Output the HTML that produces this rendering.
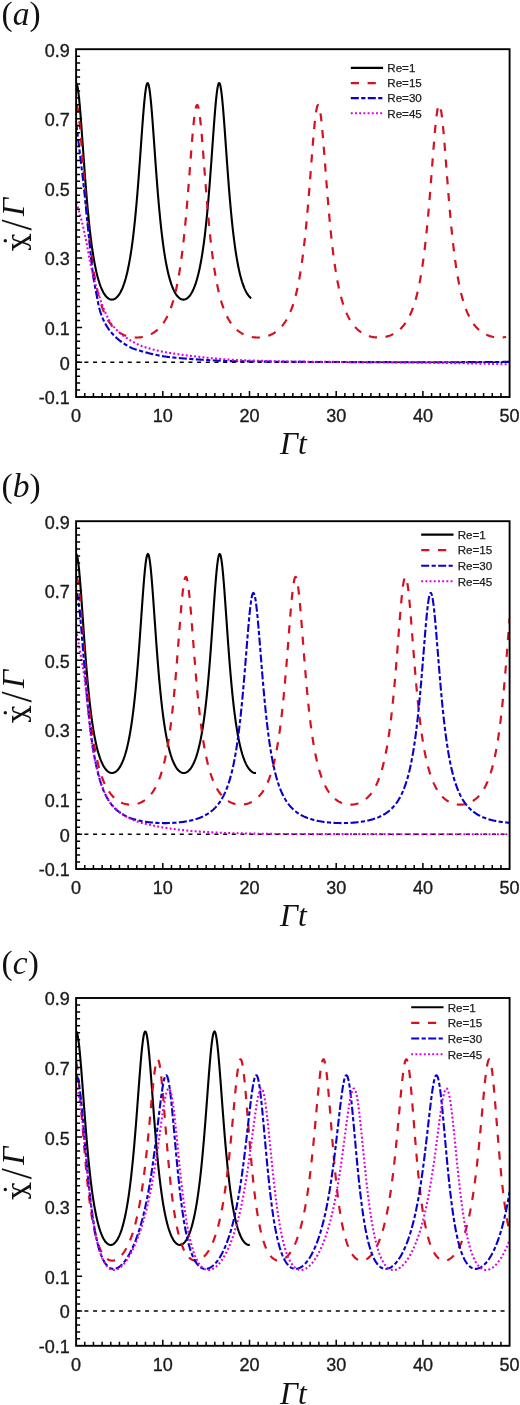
<!DOCTYPE html>
<html><head><meta charset="utf-8"><title>plot</title>
<style>
html,body{margin:0;padding:0;background:#fff;}
svg{display:block;}
.tl{font-family:"Liberation Sans",Arial,sans-serif;font-size:18px;fill:#1a1a1a;stroke:#1a1a1a;stroke-width:0.35px;}
.lg{font-family:"Liberation Sans",Arial,sans-serif;font-size:11.6px;fill:#1a1a1a;stroke:#1a1a1a;stroke-width:0.25px;}
.ax{font-family:"Liberation Serif","Times New Roman",serif;font-style:italic;font-size:31.5px;fill:#111;}
.chi{font-family:"DejaVu Math TeX Gyre",serif;font-size:26px;fill:#111;}
.dot{font-family:"Liberation Serif",serif;font-size:31.5px;fill:#111;}
.sl{font-family:"DejaVu Sans",sans-serif;font-weight:200;font-size:36px;fill:#111;}
.pl{font-family:"Liberation Serif","Times New Roman",serif;font-size:33.5px;fill:#111;}
</style></head>
<body>
<svg width="520" height="1405" viewBox="0 0 520 1405">
<defs><clipPath id="clip0"><rect x="76.10" y="49.20" width="433.50" height="347.80"/></clipPath><clipPath id="clip1"><rect x="76.10" y="521.20" width="433.50" height="347.80"/></clipPath><clipPath id="clip2"><rect x="76.10" y="998.00" width="433.50" height="347.80"/></clipPath></defs>
<rect width="520" height="1405" fill="#fff"/>
<g clip-path="url(#clip0)" fill="none" stroke-linejoin="round">
<line x1="76.10" y1="362.22" x2="509.60" y2="362.22" stroke="#000" stroke-width="1.5" stroke-dasharray="4 4.67" stroke-dashoffset="-8.30"/>
<path d="M76.10 82.94 L76.82 83.89 L77.54 86.72 L78.25 91.30 L78.97 97.43 L79.69 104.88 L80.41 113.38 L81.12 122.66 L81.84 132.46 L82.56 142.52 L83.28 152.66 L84.00 162.70 L84.71 172.51 L85.43 181.98 L86.15 191.04 L86.87 199.65 L87.58 207.78 L88.30 215.42 L89.02 222.57 L89.74 229.24 L90.46 235.44 L91.17 241.21 L91.89 246.55 L92.61 251.49 L93.33 256.07 L94.04 260.29 L94.76 264.19 L95.48 267.79 L96.20 271.11 L96.92 274.16 L97.63 276.97 L98.35 279.56 L99.07 281.93 L99.79 284.10 L100.50 286.09 L101.22 287.91 L101.94 289.57 L102.66 291.07 L103.37 292.43 L104.09 293.66 L104.81 294.75 L105.53 295.72 L106.25 296.58 L106.96 297.32 L107.68 297.95 L108.40 298.48 L109.12 298.90 L109.83 299.23 L110.55 299.45 L111.27 299.58 L111.99 299.61 L112.71 299.55 L113.42 299.39 L114.14 299.13 L114.86 298.77 L115.58 298.31 L116.29 297.75 L117.01 297.08 L117.73 296.29 L118.45 295.40 L119.17 294.39 L119.88 293.25 L120.60 291.98 L121.32 290.57 L122.04 289.01 L122.75 287.30 L123.47 285.42 L124.19 283.37 L124.91 281.13 L125.63 278.68 L126.34 276.02 L127.06 273.13 L127.78 269.99 L128.50 266.58 L129.21 262.88 L129.93 258.87 L130.65 254.52 L131.37 249.82 L132.09 244.74 L132.80 239.26 L133.52 233.35 L134.24 226.98 L134.96 220.15 L135.67 212.83 L136.39 205.02 L137.11 196.72 L137.83 187.95 L138.55 178.74 L139.26 169.14 L139.98 159.24 L140.70 149.15 L141.42 139.02 L142.13 129.02 L142.85 119.38 L143.57 110.34 L144.29 102.17 L145.01 95.14 L145.72 89.53 L146.44 85.54 L147.16 83.35 L147.88 83.05 L148.59 84.67 L149.31 88.12 L150.03 93.26 L150.75 99.88 L151.47 107.72 L152.18 116.53 L152.90 126.01 L153.62 135.92 L154.34 146.04 L155.05 156.16 L155.77 166.13 L156.49 175.83 L157.21 185.17 L157.92 194.08 L158.64 202.53 L159.36 210.49 L160.08 217.95 L160.80 224.93 L161.51 231.44 L162.23 237.49 L162.95 243.10 L163.67 248.31 L164.38 253.12 L165.10 257.57 L165.82 261.68 L166.54 265.47 L167.26 268.97 L167.97 272.19 L168.69 275.16 L169.41 277.89 L170.13 280.40 L170.84 282.70 L171.56 284.81 L172.28 286.74 L173.00 288.50 L173.72 290.11 L174.43 291.56 L175.15 292.87 L175.87 294.05 L176.59 295.10 L177.30 296.03 L178.02 296.85 L178.74 297.55 L179.46 298.15 L180.18 298.64 L180.89 299.03 L181.61 299.32 L182.33 299.51 L183.05 299.60 L183.76 299.60 L184.48 299.50 L185.20 299.31 L185.92 299.01 L186.64 298.62 L187.35 298.13 L188.07 297.53 L188.79 296.82 L189.51 296.00 L190.22 295.06 L190.94 294.01 L191.66 292.82 L192.38 291.50 L193.10 290.05 L193.81 288.44 L194.53 286.67 L195.25 284.73 L195.97 282.62 L196.68 280.31 L197.40 277.79 L198.12 275.05 L198.84 272.07 L199.56 268.84 L200.27 265.33 L200.99 261.52 L201.71 257.40 L202.43 252.94 L203.14 248.11 L203.86 242.89 L204.58 237.26 L205.30 231.19 L206.01 224.67 L206.73 217.67 L207.45 210.18 L208.17 202.20 L208.89 193.73 L209.60 184.81 L210.32 175.45 L211.04 165.74 L211.76 155.76 L212.47 145.64 L213.19 135.53 L213.91 125.63 L214.63 116.16 L215.35 107.39 L216.06 99.59 L216.78 93.03 L217.50 87.95 L218.22 84.57 L218.93 83.03 L219.65 83.40 L220.37 85.66 L221.09 89.72 L221.81 95.40 L222.52 102.47 L223.24 110.68 L223.96 119.75 L224.68 129.41 L225.39 139.42 L226.11 149.55 L226.83 159.64 L227.55 169.53 L228.27 179.11 L228.98 188.31 L229.70 197.06 L230.42 205.34 L231.14 213.13 L231.85 220.43 L232.57 227.24 L233.29 233.59 L234.01 239.48 L234.73 244.95 L235.44 250.02 L236.16 254.70 L236.88 259.03 L237.60 263.03 L238.31 266.72 L239.03 270.12 L239.75 273.25 L240.47 276.13 L241.19 278.79 L241.90 281.22 L242.62 283.46 L243.34 285.50 L244.06 287.37 L244.77 289.08 L245.49 290.63 L246.21 292.03 L246.93 293.29 L247.65 294.43 L248.36 295.44 L249.08 296.33 L249.80 297.10 L250.52 297.77 L251.23 298.33" stroke="#000" stroke-width="2.1"/>
<path d="M76.10 104.85 L76.82 105.69 L77.54 108.19 L78.26 112.25 L78.98 117.71 L79.70 124.38 L80.42 132.03 L81.14 140.44 L81.86 149.38 L82.58 158.65 L83.30 168.06 L84.02 177.46 L84.74 186.71 L85.46 195.72 L86.18 204.42 L86.90 212.75 L87.63 220.68 L88.35 228.19 L89.07 235.28 L89.79 241.95 L90.51 248.20 L91.23 254.06 L91.95 259.53 L92.67 264.64 L93.39 269.42 L94.11 273.87 L94.83 278.02 L95.55 281.89 L96.27 285.51 L96.99 288.88 L97.71 292.02 L98.43 294.96 L99.15 297.70 L99.87 300.27 L100.59 302.67 L101.31 304.91 L102.03 307.01 L102.75 308.98 L103.47 310.83 L104.19 312.56 L104.91 314.19 L105.63 315.71 L106.35 317.15 L107.07 318.50 L107.79 319.76 L108.51 320.96 L109.23 322.08 L109.96 323.14 L110.68 324.14 L111.40 325.08 L112.12 325.96 L112.84 326.80 L113.56 327.59 L114.28 328.33 L115.00 329.03 L115.72 329.69 L116.44 330.31 L117.16 330.90 L117.88 331.45 L118.60 331.97 L119.32 332.46 L120.04 332.92 L120.76 333.35 L121.48 333.75 L122.20 334.13 L122.92 334.49 L123.64 334.82 L124.36 335.13 L125.08 335.42 L125.80 335.69 L126.52 335.93 L127.24 336.16 L127.96 336.37 L128.68 336.56 L129.40 336.73 L130.12 336.88 L130.84 337.02 L131.56 337.14 L132.29 337.24 L133.01 337.33 L133.73 337.40 L134.45 337.46 L135.17 337.49 L135.89 337.52 L136.61 337.53 L137.33 337.52 L138.05 337.50 L138.77 337.46 L139.49 337.40 L140.21 337.33 L140.93 337.24 L141.65 337.14 L142.37 337.02 L143.09 336.89 L143.81 336.73 L144.53 336.56 L145.25 336.37 L145.97 336.16 L146.69 335.94 L147.41 335.69 L148.13 335.43 L148.85 335.14 L149.57 334.83 L150.29 334.50 L151.01 334.14 L151.73 333.76 L152.45 333.36 L153.17 332.93 L153.89 332.47 L154.62 331.98 L155.34 331.46 L156.06 330.91 L156.78 330.33 L157.50 329.70 L158.22 329.05 L158.94 328.35 L159.66 327.61 L160.38 326.82 L161.10 325.99 L161.82 325.10 L162.54 324.16 L163.26 323.17 L163.98 322.11 L164.70 320.99 L165.42 319.80 L166.14 318.53 L166.86 317.18 L167.58 315.75 L168.30 314.23 L169.02 312.60 L169.74 310.88 L170.46 309.03 L171.18 307.07 L171.90 304.97 L172.62 302.73 L173.34 300.33 L174.06 297.77 L174.78 295.03 L175.50 292.10 L176.22 288.96 L176.95 285.60 L177.67 281.99 L178.39 278.13 L179.11 273.98 L179.83 269.54 L180.55 264.78 L181.27 259.67 L181.99 254.21 L182.71 248.36 L183.43 242.12 L184.15 235.46 L184.87 228.39 L185.59 220.89 L186.31 212.97 L187.03 204.65 L187.75 195.96 L188.47 186.95 L189.19 177.70 L189.91 168.31 L190.63 158.90 L191.35 149.63 L192.07 140.67 L192.79 132.24 L193.51 124.57 L194.23 117.87 L194.95 112.38 L195.67 108.28 L196.39 105.74 L197.11 104.85 L197.83 105.65 L198.55 108.11 L199.27 112.12 L200.00 117.55 L200.72 124.19 L201.44 131.82 L202.16 140.21 L202.88 149.14 L203.60 158.40 L204.32 167.81 L205.04 177.21 L205.76 186.47 L206.48 195.49 L207.20 204.19 L207.92 212.53 L208.64 220.48 L209.36 228.00 L210.08 235.10 L210.80 241.78 L211.52 248.04 L212.24 253.91 L212.96 259.39 L213.68 264.51 L214.40 269.29 L215.12 273.75 L215.84 277.91 L216.56 281.79 L217.28 285.41 L218.00 288.79 L218.72 291.94 L219.44 294.88 L220.16 297.63 L220.88 300.20 L221.60 302.60 L222.33 304.85 L223.05 306.96 L223.77 308.93 L224.49 310.78 L225.21 312.52 L225.93 314.14 L226.65 315.67 L227.37 317.11 L228.09 318.46 L228.81 319.73 L229.53 320.93 L230.25 322.05 L230.97 323.11 L231.69 324.11 L232.41 325.05 L233.13 325.94 L233.85 326.78 L234.57 327.57 L235.29 328.31 L236.01 329.01 L236.73 329.67 L237.45 330.29 L238.17 330.88 L238.89 331.43 L239.61 331.95 L240.33 332.44 L241.05 332.90 L241.77 333.34 L242.49 333.74 L243.21 334.12 L243.93 334.48 L244.66 334.81 L245.38 335.12 L246.10 335.41 L246.82 335.68 L247.54 335.93 L248.26 336.15 L248.98 336.36 L249.70 336.55 L250.42 336.72 L251.14 336.88 L251.86 337.02 L252.58 337.14 L253.30 337.24 L254.02 337.33 L254.74 337.40 L255.46 337.45 L256.18 337.49 L256.90 337.52 L257.62 337.53 L258.34 337.52 L259.06 337.50 L259.78 337.46 L260.50 337.40 L261.22 337.33 L261.94 337.25 L262.66 337.14 L263.38 337.03 L264.10 336.89 L264.82 336.74 L265.54 336.57 L266.26 336.38 L266.99 336.17 L267.71 335.94 L268.43 335.70 L269.15 335.43 L269.87 335.15 L270.59 334.84 L271.31 334.51 L272.03 334.15 L272.75 333.77 L273.47 333.37 L274.19 332.94 L274.91 332.48 L275.63 331.99 L276.35 331.48 L277.07 330.93 L277.79 330.34 L278.51 329.72 L279.23 329.06 L279.95 328.37 L280.67 327.63 L281.39 326.84 L282.11 326.01 L282.83 325.13 L283.55 324.19 L284.27 323.20 L284.99 322.14 L285.71 321.02 L286.43 319.83 L287.15 318.57 L287.87 317.22 L288.59 315.79 L289.32 314.27 L290.04 312.65 L290.76 310.92 L291.48 309.08 L292.20 307.12 L292.92 305.03 L293.64 302.79 L294.36 300.40 L295.08 297.84 L295.80 295.11 L296.52 292.18 L297.24 289.05 L297.96 285.69 L298.68 282.09 L299.40 278.23 L300.12 274.10 L300.84 269.66 L301.56 264.91 L302.28 259.81 L303.00 254.36 L303.72 248.52 L304.44 242.29 L305.16 235.65 L305.88 228.58 L306.60 221.09 L307.32 213.18 L308.04 204.87 L308.76 196.19 L309.48 187.20 L310.20 177.95 L310.92 168.56 L311.65 159.15 L312.37 149.87 L313.09 140.90 L313.81 132.46 L314.53 124.76 L315.25 118.04 L315.97 112.51 L316.69 108.37 L317.41 105.78 L318.13 104.85 L318.85 105.61 L319.57 108.02 L320.29 112.00 L321.01 117.39 L321.73 124.00 L322.45 131.60 L323.17 139.98 L323.89 148.90 L324.61 158.15 L325.33 167.56 L326.05 176.96 L326.77 186.22 L327.49 195.25 L328.21 203.97 L328.93 212.32 L329.65 220.27 L330.37 227.80 L331.09 234.92 L331.81 241.60 L332.53 247.88 L333.25 253.76 L333.98 259.25 L334.70 264.38 L335.42 269.17 L336.14 273.64 L336.86 277.81 L337.58 281.69 L338.30 285.32 L339.02 288.70 L339.74 291.86 L340.46 294.81 L341.18 297.56 L341.90 300.14 L342.62 302.54 L343.34 304.80 L344.06 306.90 L344.78 308.88 L345.50 310.73 L346.22 312.47 L346.94 314.10 L347.66 315.63 L348.38 317.07 L349.10 318.43 L349.82 319.70 L350.54 320.90 L351.26 322.02 L351.98 323.09 L352.70 324.09 L353.42 325.03 L354.14 325.92 L354.86 326.76 L355.58 327.54 L356.31 328.29 L357.03 328.99 L357.75 329.65 L358.47 330.28 L359.19 330.87 L359.91 331.42 L360.63 331.94 L361.35 332.43 L362.07 332.89 L362.79 333.33 L363.51 333.73 L364.23 334.11 L364.95 334.47 L365.67 334.80 L366.39 335.11 L367.11 335.40 L367.83 335.67 L368.55 335.92 L369.27 336.15 L369.99 336.36 L370.71 336.55 L371.43 336.72 L372.15 336.87 L372.87 337.01 L373.59 337.13 L374.31 337.24 L375.03 337.32 L375.75 337.40 L376.47 337.45 L377.19 337.49 L377.91 337.52 L378.64 337.53 L379.36 337.52 L380.08 337.50 L380.80 337.46 L381.52 337.41 L382.24 337.34 L382.96 337.25 L383.68 337.15 L384.40 337.03 L385.12 336.89 L385.84 336.74 L386.56 336.57 L387.28 336.38 L388.00 336.18 L388.72 335.95 L389.44 335.71 L390.16 335.44 L390.88 335.15 L391.60 334.85 L392.32 334.52 L393.04 334.16 L393.76 333.79 L394.48 333.38 L395.20 332.95 L395.92 332.49 L396.64 332.01 L397.36 331.49 L398.08 330.94 L398.80 330.36 L399.52 329.74 L400.24 329.08 L400.97 328.39 L401.69 327.65 L402.41 326.86 L403.13 326.03 L403.85 325.15 L404.57 324.21 L405.29 323.22 L406.01 322.17 L406.73 321.05 L407.45 319.86 L408.17 318.60 L408.89 317.26 L409.61 315.83 L410.33 314.31 L411.05 312.69 L411.77 310.97 L412.49 309.13 L413.21 307.17 L413.93 305.08 L414.65 302.85 L415.37 300.47 L416.09 297.91 L416.81 295.19 L417.53 292.26 L418.25 289.14 L418.97 285.78 L419.69 282.19 L420.41 278.34 L421.13 274.21 L421.85 269.78 L422.57 265.04 L423.30 259.95 L424.02 254.51 L424.74 248.68 L425.46 242.46 L426.18 235.83 L426.90 228.78 L427.62 221.30 L428.34 213.40 L429.06 205.10 L429.78 196.43 L430.50 187.44 L431.22 178.20 L431.94 168.81 L432.66 159.40 L433.38 150.11 L434.10 141.14 L434.82 132.68 L435.54 124.95 L436.26 118.20 L436.98 112.64 L437.70 108.46 L438.42 105.83 L439.14 104.85 L439.86 105.56 L440.58 107.93 L441.30 111.87 L442.02 117.23 L442.74 123.81 L443.46 131.39 L444.18 139.75 L444.90 148.65 L445.62 157.90 L446.35 167.31 L447.07 176.71 L447.79 185.98 L448.51 195.01 L449.23 203.74 L449.95 212.10 L450.67 220.06 L451.39 227.61 L452.11 234.73 L452.83 241.43 L453.55 247.72 L454.27 253.60 L454.99 259.11 L455.71 264.25 L456.43 269.05 L457.15 273.52 L457.87 277.70 L458.59 281.59 L459.31 285.23 L460.03 288.62 L460.75 291.78 L461.47 294.73 L462.19 297.49 L462.91 300.07 L463.63 302.48 L464.35 304.74 L465.07 306.85 L465.79 308.83 L466.51 310.69 L467.23 312.43 L467.95 314.06 L468.68 315.59 L469.40 317.04 L470.12 318.39 L470.84 319.67 L471.56 320.87 L472.28 321.99 L473.00 323.06 L473.72 324.06 L474.44 325.00 L475.16 325.89 L475.88 326.73 L476.60 327.52 L477.32 328.27 L478.04 328.97 L478.76 329.64 L479.48 330.26 L480.20 330.85 L480.92 331.41 L481.64 331.93 L482.36 332.42 L483.08 332.88 L483.80 333.32 L484.52 333.72 L485.24 334.10 L485.96 334.46 L486.68 334.80 L487.40 335.11 L488.12 335.40 L488.84 335.66 L489.56 335.91 L490.28 336.14 L491.01 336.35 L491.73 336.54 L492.45 336.71 L493.17 336.87 L493.89 337.01 L494.61 337.13 L495.33 337.23 L496.05 337.32 L496.77 337.40 L497.49 337.45 L498.21 337.49 L498.93 337.52 L499.65 337.53 L500.37 337.52 L501.09 337.50 L501.81 337.46 L502.53 337.41 L503.25 337.34 L503.97 337.25 L504.69 337.15 L505.41 337.03 L506.13 336.90" stroke="#d5101f" stroke-width="2.2" stroke-dasharray="8.2 8.6"/>
<path d="M76.10 122.24 L76.82 128.09 L77.54 133.98 L78.26 139.91 L78.98 145.88 L79.70 151.89 L80.42 157.94 L81.14 163.97 L81.86 169.98 L82.58 176.06 L83.30 182.28 L84.02 188.75 L84.74 195.59 L85.46 202.81 L86.18 210.21 L86.90 217.56 L87.62 224.65 L88.34 231.56 L89.06 238.43 L89.78 245.34 L90.50 252.60 L91.22 259.85 L91.94 266.38 L92.66 271.98 L93.38 277.00 L94.10 281.52 L94.82 285.56 L95.54 289.34 L96.26 293.13 L96.98 297.03 L97.70 300.87 L98.42 304.47 L99.14 307.65 L99.86 310.27 L100.58 312.58 L101.30 314.70 L102.02 316.63 L102.74 318.41 L103.46 320.03 L104.18 321.52 L104.90 322.90 L105.62 324.21 L106.34 325.45 L107.06 326.63 L107.78 327.74 L108.50 328.80 L109.22 329.81 L109.94 330.76 L110.66 331.68 L111.38 332.55 L112.10 333.38 L112.83 334.18 L113.55 334.96 L114.27 335.70 L114.99 336.43 L115.71 337.12 L116.43 337.80 L117.15 338.44 L117.87 339.07 L118.59 339.67 L119.31 340.26 L120.03 340.82 L120.75 341.36 L121.47 341.88 L122.19 342.38 L122.91 342.88 L123.63 343.37 L124.35 343.84 L125.07 344.31 L125.79 344.76 L126.51 345.21 L127.23 345.64 L127.95 346.05 L128.67 346.45 L129.39 346.84 L130.11 347.21 L130.83 347.56 L131.55 347.90 L132.27 348.22 L132.99 348.52 L133.71 348.80 L134.43 349.07 L135.15 349.31 L135.87 349.54 L136.59 349.76 L137.31 349.97 L138.03 350.18 L138.75 350.38 L139.47 350.59 L140.19 350.80 L140.91 351.01 L141.63 351.22 L142.35 351.43 L143.07 351.63 L143.79 351.84 L144.51 352.04 L145.23 352.25 L145.95 352.45 L146.67 352.64 L147.39 352.84 L148.11 353.03 L148.83 353.22 L149.55 353.40 L150.27 353.58 L150.99 353.75 L151.71 353.92 L152.43 354.08 L153.15 354.24 L153.87 354.40 L154.59 354.56 L155.31 354.72 L156.03 354.87 L156.75 355.03 L157.47 355.18 L158.19 355.33 L158.91 355.47 L159.63 355.61 L160.35 355.75 L161.07 355.88 L161.79 356.01 L162.51 356.14 L163.23 356.25 L163.95 356.37 L164.67 356.47 L165.39 356.57 L166.11 356.67 L166.83 356.76 L167.55 356.85 L168.27 356.93 L168.99 357.02 L169.71 357.10 L170.43 357.18 L171.15 357.27 L171.87 357.34 L172.59 357.42 L173.31 357.50 L174.03 357.57 L174.75 357.65 L175.47 357.72 L176.19 357.79 L176.91 357.86 L177.63 357.93 L178.35 357.99 L179.07 358.06 L179.79 358.12 L180.51 358.19 L181.23 358.25 L181.95 358.31 L182.67 358.37 L183.39 358.43 L184.11 358.49 L184.84 358.55 L185.56 358.60 L186.28 358.66 L187.00 358.71 L187.72 358.77 L188.44 358.82 L189.16 358.87 L189.88 358.92 L190.60 358.98 L191.32 359.03 L192.04 359.08 L192.76 359.13 L193.48 359.17 L194.20 359.22 L194.92 359.27 L195.64 359.32 L196.36 359.36 L197.08 359.41 L197.80 359.46 L198.52 359.50 L199.24 359.55 L199.96 359.60 L200.68 359.64 L201.40 359.69 L202.12 359.74 L202.84 359.78 L203.56 359.83 L204.28 359.88 L205.00 359.92 L205.72 359.97 L206.44 360.01 L207.16 360.06 L207.88 360.11 L208.60 360.15 L209.32 360.19 L210.04 360.24 L210.76 360.28 L211.48 360.32 L212.20 360.37 L212.92 360.41 L213.64 360.45 L214.36 360.49 L215.08 360.53 L215.80 360.57 L216.52 360.61 L217.24 360.64 L217.96 360.68 L218.68 360.72 L219.40 360.75 L220.12 360.79 L220.84 360.82 L221.56 360.85 L222.28 360.88 L223.00 360.91 L223.72 360.94 L224.44 360.97 L225.16 360.99 L225.88 361.02 L226.60 361.04 L227.32 361.06 L228.04 361.08 L228.76 361.10 L229.48 361.12 L230.20 361.14 L230.92 361.15 L231.64 361.17 L232.36 361.18 L233.08 361.19 L233.80 361.20 L234.52 361.21 L235.24 361.23 L235.96 361.24 L236.68 361.25 L237.40 361.26 L238.12 361.27 L238.84 361.28 L239.56 361.29 L240.28 361.30 L241.00 361.31 L241.72 361.32 L242.44 361.33 L243.16 361.34 L243.88 361.35 L244.60 361.36 L245.32 361.37 L246.04 361.38 L246.76 361.39 L247.48 361.40 L248.20 361.41 L248.92 361.42 L249.64 361.43 L250.36 361.44 L251.08 361.45 L251.80 361.46 L252.52 361.47 L253.24 361.48 L253.96 361.49 L254.68 361.50 L255.40 361.50 L256.12 361.51 L256.85 361.52 L257.57 361.53 L258.29 361.54 L259.01 361.55 L259.73 361.55 L260.45 361.56 L261.17 361.57 L261.89 361.58 L262.61 361.59 L263.33 361.59 L264.05 361.60 L264.77 361.61 L265.49 361.62 L266.21 361.62 L266.93 361.63 L267.65 361.64 L268.37 361.65 L269.09 361.65 L269.81 361.66 L270.53 361.67 L271.25 361.67 L271.97 361.68 L272.69 361.69 L273.41 361.70 L274.13 361.70 L274.85 361.71 L275.57 361.71 L276.29 361.72 L277.01 361.73 L277.73 361.73 L278.45 361.74 L279.17 361.75 L279.89 361.75 L280.61 361.76 L281.33 361.76 L282.05 361.77 L282.77 361.78 L283.49 361.78 L284.21 361.79 L284.93 361.79 L285.65 361.80 L286.37 361.80 L287.09 361.81 L287.81 361.81 L288.53 361.82 L289.25 361.82 L289.97 361.83 L290.69 361.83 L291.41 361.84 L292.13 361.84 L292.85 361.85 L293.57 361.85 L294.29 361.86 L295.01 361.86 L295.73 361.87 L296.45 361.87 L297.17 361.88 L297.89 361.88 L298.61 361.89 L299.33 361.89 L300.05 361.89 L300.77 361.90 L301.49 361.90 L302.21 361.91 L302.93 361.91 L303.65 361.92 L304.37 361.92 L305.09 361.92 L305.81 361.93 L306.53 361.93 L307.25 361.93 L307.97 361.94 L308.69 361.94 L309.41 361.95 L310.13 361.95 L310.85 361.95 L311.57 361.96 L312.29 361.96 L313.01 361.96 L313.73 361.97 L314.45 361.97 L315.17 361.97 L315.89 361.97 L316.61 361.98 L317.33 361.98 L318.05 361.98 L318.77 361.99 L319.49 361.99 L320.21 361.99 L320.93 362.00 L321.65 362.00 L322.37 362.00 L323.09 362.00 L323.81 362.01 L324.53 362.01 L325.25 362.01 L325.97 362.01 L326.69 362.02 L327.41 362.02 L328.13 362.02 L328.85 362.02 L329.58 362.03 L330.30 362.03 L331.02 362.03 L331.74 362.03 L332.46 362.04 L333.18 362.04 L333.90 362.04 L334.62 362.04 L335.34 362.04 L336.06 362.05 L336.78 362.05 L337.50 362.05 L338.22 362.05 L338.94 362.05 L339.66 362.06 L340.38 362.06 L341.10 362.06 L341.82 362.06 L342.54 362.06 L343.26 362.07 L343.98 362.07 L344.70 362.07 L345.42 362.07 L346.14 362.07 L346.86 362.08 L347.58 362.08 L348.30 362.08 L349.02 362.08 L349.74 362.08 L350.46 362.08 L351.18 362.09 L351.90 362.09 L352.62 362.09 L353.34 362.09 L354.06 362.09 L354.78 362.10 L355.50 362.10 L356.22 362.10 L356.94 362.10 L357.66 362.10 L358.38 362.10 L359.10 362.11 L359.82 362.11 L360.54 362.11 L361.26 362.11 L361.98 362.11 L362.70 362.12 L363.42 362.12 L364.14 362.12 L364.86 362.12 L365.58 362.12 L366.30 362.12 L367.02 362.13 L367.74 362.13 L368.46 362.13 L369.18 362.13 L369.90 362.13 L370.62 362.13 L371.34 362.14 L372.06 362.14 L372.78 362.14 L373.50 362.14 L374.22 362.14 L374.94 362.14 L375.66 362.14 L376.38 362.15 L377.10 362.15 L377.82 362.15 L378.54 362.15 L379.26 362.15 L379.98 362.15 L380.70 362.15 L381.42 362.16 L382.14 362.16 L382.86 362.16 L383.58 362.16 L384.30 362.16 L385.02 362.16 L385.74 362.16 L386.46 362.17 L387.18 362.17 L387.90 362.17 L388.62 362.17 L389.34 362.17 L390.06 362.17 L390.78 362.17 L391.50 362.18 L392.22 362.18 L392.94 362.18 L393.66 362.18 L394.38 362.18 L395.10 362.18 L395.82 362.18 L396.54 362.18 L397.26 362.18 L397.98 362.19 L398.70 362.19 L399.42 362.19 L400.14 362.19 L400.86 362.19 L401.59 362.19 L402.31 362.19 L403.03 362.19 L403.75 362.19 L404.47 362.19 L405.19 362.20 L405.91 362.20 L406.63 362.20 L407.35 362.20 L408.07 362.20 L408.79 362.20 L409.51 362.20 L410.23 362.20 L410.95 362.20 L411.67 362.20 L412.39 362.20 L413.11 362.21 L413.83 362.21 L414.55 362.21 L415.27 362.21 L415.99 362.21 L416.71 362.21 L417.43 362.21 L418.15 362.21 L418.87 362.21 L419.59 362.21 L420.31 362.21 L421.03 362.21 L421.75 362.21 L422.47 362.21 L423.19 362.21 L423.91 362.21 L424.63 362.21 L425.35 362.22 L426.07 362.22 L426.79 362.22 L427.51 362.22 L428.23 362.22 L428.95 362.22 L429.67 362.22 L430.39 362.22 L431.11 362.22 L431.83 362.22 L432.55 362.22 L433.27 362.22 L433.99 362.22 L434.71 362.22 L435.43 362.22 L436.15 362.22 L436.87 362.22 L437.59 362.22 L438.31 362.22 L439.03 362.22 L439.75 362.22 L440.47 362.22 L441.19 362.22 L441.91 362.22 L442.63 362.22 L443.35 362.22 L444.07 362.22 L444.79 362.22 L445.51 362.22 L446.23 362.22 L446.95 362.22 L447.67 362.21 L448.39 362.21 L449.11 362.21 L449.83 362.21 L450.55 362.21 L451.27 362.21 L451.99 362.21 L452.71 362.20 L453.43 362.20 L454.15 362.20 L454.87 362.20 L455.59 362.20 L456.31 362.19 L457.03 362.19 L457.75 362.19 L458.47 362.19 L459.19 362.19 L459.91 362.18 L460.63 362.18 L461.35 362.18 L462.07 362.17 L462.79 362.17 L463.51 362.17 L464.23 362.17 L464.95 362.16 L465.67 362.16 L466.39 362.16 L467.11 362.15 L467.83 362.15 L468.55 362.15 L469.27 362.14 L469.99 362.14 L470.71 362.14 L471.43 362.13 L472.15 362.13 L472.87 362.12 L473.60 362.12 L474.32 362.12 L475.04 362.11 L475.76 362.11 L476.48 362.10 L477.20 362.10 L477.92 362.10 L478.64 362.09 L479.36 362.09 L480.08 362.08 L480.80 362.08 L481.52 362.07 L482.24 362.07 L482.96 362.06 L483.68 362.06 L484.40 362.06 L485.12 362.05 L485.84 362.05 L486.56 362.04 L487.28 362.04 L488.00 362.03 L488.72 362.03 L489.44 362.02 L490.16 362.02 L490.88 362.01 L491.60 362.01 L492.32 362.00 L493.04 362.00 L493.76 361.99 L494.48 361.99 L495.20 361.98 L495.92 361.98 L496.64 361.97 L497.36 361.96 L498.08 361.96 L498.80 361.95 L499.52 361.95 L500.24 361.94 L500.96 361.94 L501.68 361.93 L502.40 361.93 L503.12 361.92 L503.84 361.92 L504.56 361.91 L505.28 361.91 L506.00 361.90 L506.72 361.89 L507.44 361.89 L508.16 361.88 L508.88 361.88 L509.60 361.87" stroke="#0800cc" stroke-width="2.1" stroke-dasharray="8 2.4 4.2 2.4"/>
<path d="M76.10 202.58 L76.82 204.52 L77.54 206.60 L78.26 208.81 L78.98 211.15 L79.70 213.60 L80.42 216.15 L81.14 218.79 L81.86 221.51 L82.58 224.38 L83.30 227.45 L84.02 230.68 L84.74 234.04 L85.46 237.48 L86.18 241.04 L86.90 244.85 L87.62 248.83 L88.34 252.84 L89.06 256.75 L89.78 260.44 L90.50 263.87 L91.22 267.21 L91.94 270.45 L92.66 273.57 L93.38 276.54 L94.10 279.37 L94.82 282.02 L95.54 284.50 L96.26 286.86 L96.98 289.15 L97.70 291.39 L98.42 293.64 L99.14 295.90 L99.86 298.14 L100.58 300.33 L101.30 302.46 L102.02 304.50 L102.74 306.43 L103.46 308.23 L104.18 309.93 L104.90 311.61 L105.62 313.23 L106.34 314.81 L107.06 316.34 L107.78 317.80 L108.50 319.18 L109.22 320.49 L109.94 321.71 L110.66 322.83 L111.38 323.85 L112.10 324.81 L112.83 325.72 L113.55 326.59 L114.27 327.42 L114.99 328.22 L115.71 328.99 L116.43 329.72 L117.15 330.42 L117.87 331.10 L118.59 331.76 L119.31 332.40 L120.03 333.01 L120.75 333.61 L121.47 334.20 L122.19 334.78 L122.91 335.34 L123.63 335.89 L124.35 336.42 L125.07 336.93 L125.79 337.43 L126.51 337.92 L127.23 338.40 L127.95 338.87 L128.67 339.32 L129.39 339.77 L130.11 340.20 L130.83 340.63 L131.55 341.05 L132.27 341.46 L132.99 341.86 L133.71 342.26 L134.43 342.65 L135.15 343.03 L135.87 343.41 L136.59 343.77 L137.31 344.12 L138.03 344.46 L138.75 344.79 L139.47 345.10 L140.19 345.39 L140.91 345.68 L141.63 345.96 L142.35 346.24 L143.07 346.50 L143.79 346.76 L144.51 347.01 L145.23 347.26 L145.95 347.50 L146.67 347.73 L147.39 347.95 L148.11 348.17 L148.83 348.38 L149.55 348.59 L150.27 348.79 L150.99 348.98 L151.71 349.17 L152.43 349.36 L153.15 349.55 L153.87 349.73 L154.59 349.91 L155.31 350.08 L156.03 350.25 L156.75 350.42 L157.47 350.59 L158.19 350.75 L158.91 350.91 L159.63 351.06 L160.35 351.22 L161.07 351.37 L161.79 351.51 L162.51 351.66 L163.23 351.80 L163.95 351.93 L164.67 352.07 L165.39 352.20 L166.11 352.33 L166.83 352.45 L167.55 352.58 L168.27 352.70 L168.99 352.82 L169.71 352.94 L170.43 353.06 L171.15 353.17 L171.87 353.29 L172.59 353.40 L173.31 353.52 L174.03 353.63 L174.75 353.74 L175.47 353.85 L176.19 353.95 L176.91 354.06 L177.63 354.16 L178.35 354.27 L179.07 354.37 L179.79 354.47 L180.51 354.57 L181.23 354.67 L181.95 354.77 L182.67 354.87 L183.39 354.96 L184.11 355.06 L184.84 355.15 L185.56 355.24 L186.28 355.34 L187.00 355.43 L187.72 355.52 L188.44 355.61 L189.16 355.69 L189.88 355.78 L190.60 355.87 L191.32 355.95 L192.04 356.04 L192.76 356.12 L193.48 356.21 L194.20 356.29 L194.92 356.37 L195.64 356.45 L196.36 356.53 L197.08 356.61 L197.80 356.69 L198.52 356.77 L199.24 356.85 L199.96 356.93 L200.68 357.01 L201.40 357.09 L202.12 357.16 L202.84 357.24 L203.56 357.32 L204.28 357.40 L205.00 357.48 L205.72 357.56 L206.44 357.64 L207.16 357.71 L207.88 357.79 L208.60 357.87 L209.32 357.94 L210.04 358.02 L210.76 358.09 L211.48 358.17 L212.20 358.24 L212.92 358.31 L213.64 358.38 L214.36 358.45 L215.08 358.52 L215.80 358.59 L216.52 358.66 L217.24 358.73 L217.96 358.79 L218.68 358.86 L219.40 358.92 L220.12 358.98 L220.84 359.04 L221.56 359.10 L222.28 359.16 L223.00 359.21 L223.72 359.27 L224.44 359.32 L225.16 359.37 L225.88 359.42 L226.60 359.47 L227.32 359.52 L228.04 359.56 L228.76 359.61 L229.48 359.65 L230.20 359.69 L230.92 359.73 L231.64 359.76 L232.36 359.79 L233.08 359.83 L233.80 359.86 L234.52 359.89 L235.24 359.92 L235.96 359.95 L236.68 359.99 L237.40 360.02 L238.12 360.05 L238.84 360.08 L239.56 360.11 L240.28 360.14 L241.00 360.17 L241.72 360.19 L242.44 360.22 L243.16 360.25 L243.88 360.28 L244.60 360.31 L245.32 360.33 L246.04 360.36 L246.76 360.39 L247.48 360.42 L248.20 360.44 L248.92 360.47 L249.64 360.49 L250.36 360.52 L251.08 360.54 L251.80 360.57 L252.52 360.59 L253.24 360.62 L253.96 360.64 L254.68 360.66 L255.40 360.69 L256.12 360.71 L256.85 360.73 L257.57 360.76 L258.29 360.78 L259.01 360.80 L259.73 360.82 L260.45 360.84 L261.17 360.86 L261.89 360.89 L262.61 360.91 L263.33 360.93 L264.05 360.95 L264.77 360.97 L265.49 360.98 L266.21 361.00 L266.93 361.02 L267.65 361.04 L268.37 361.06 L269.09 361.08 L269.81 361.10 L270.53 361.11 L271.25 361.13 L271.97 361.15 L272.69 361.16 L273.41 361.18 L274.13 361.20 L274.85 361.21 L275.57 361.23 L276.29 361.24 L277.01 361.26 L277.73 361.27 L278.45 361.29 L279.17 361.30 L279.89 361.32 L280.61 361.33 L281.33 361.34 L282.05 361.36 L282.77 361.37 L283.49 361.38 L284.21 361.39 L284.93 361.41 L285.65 361.42 L286.37 361.43 L287.09 361.44 L287.81 361.45 L288.53 361.46 L289.25 361.47 L289.97 361.49 L290.69 361.50 L291.41 361.51 L292.13 361.51 L292.85 361.52 L293.57 361.53 L294.29 361.54 L295.01 361.55 L295.73 361.56 L296.45 361.57 L297.17 361.58 L297.89 361.59 L298.61 361.59 L299.33 361.60 L300.05 361.61 L300.77 361.62 L301.49 361.63 L302.21 361.63 L302.93 361.64 L303.65 361.65 L304.37 361.66 L305.09 361.66 L305.81 361.67 L306.53 361.68 L307.25 361.69 L307.97 361.69 L308.69 361.70 L309.41 361.71 L310.13 361.71 L310.85 361.72 L311.57 361.73 L312.29 361.73 L313.01 361.74 L313.73 361.75 L314.45 361.75 L315.17 361.76 L315.89 361.76 L316.61 361.77 L317.33 361.78 L318.05 361.78 L318.77 361.79 L319.49 361.79 L320.21 361.80 L320.93 361.80 L321.65 361.81 L322.37 361.81 L323.09 361.82 L323.81 361.83 L324.53 361.83 L325.25 361.84 L325.97 361.84 L326.69 361.85 L327.41 361.85 L328.13 361.86 L328.85 361.86 L329.58 361.87 L330.30 361.87 L331.02 361.88 L331.74 361.88 L332.46 361.89 L333.18 361.89 L333.90 361.89 L334.62 361.90 L335.34 361.90 L336.06 361.91 L336.78 361.91 L337.50 361.92 L338.22 361.92 L338.94 361.93 L339.66 361.93 L340.38 361.94 L341.10 361.94 L341.82 361.94 L342.54 361.95 L343.26 361.95 L343.98 361.96 L344.70 361.96 L345.42 361.97 L346.14 361.97 L346.86 361.98 L347.58 361.98 L348.30 361.99 L349.02 361.99 L349.74 361.99 L350.46 362.00 L351.18 362.00 L351.90 362.01 L352.62 362.01 L353.34 362.02 L354.06 362.02 L354.78 362.03 L355.50 362.03 L356.22 362.04 L356.94 362.04 L357.66 362.05 L358.38 362.05 L359.10 362.06 L359.82 362.06 L360.54 362.07 L361.26 362.07 L361.98 362.08 L362.70 362.08 L363.42 362.09 L364.14 362.09 L364.86 362.10 L365.58 362.10 L366.30 362.11 L367.02 362.11 L367.74 362.12 L368.46 362.12 L369.18 362.13 L369.90 362.14 L370.62 362.14 L371.34 362.15 L372.06 362.15 L372.78 362.16 L373.50 362.17 L374.22 362.17 L374.94 362.18 L375.66 362.18 L376.38 362.19 L377.10 362.20 L377.82 362.20 L378.54 362.21 L379.26 362.22 L379.98 362.22 L380.70 362.23 L381.42 362.24 L382.14 362.24 L382.86 362.25 L383.58 362.26 L384.30 362.27 L385.02 362.27 L385.74 362.28 L386.46 362.29 L387.18 362.29 L387.90 362.30 L388.62 362.31 L389.34 362.31 L390.06 362.32 L390.78 362.33 L391.50 362.34 L392.22 362.34 L392.94 362.35 L393.66 362.36 L394.38 362.37 L395.10 362.37 L395.82 362.38 L396.54 362.39 L397.26 362.39 L397.98 362.40 L398.70 362.41 L399.42 362.42 L400.14 362.42 L400.86 362.43 L401.59 362.44 L402.31 362.45 L403.03 362.46 L403.75 362.46 L404.47 362.47 L405.19 362.48 L405.91 362.49 L406.63 362.49 L407.35 362.50 L408.07 362.51 L408.79 362.52 L409.51 362.53 L410.23 362.53 L410.95 362.54 L411.67 362.55 L412.39 362.56 L413.11 362.57 L413.83 362.57 L414.55 362.58 L415.27 362.59 L415.99 362.60 L416.71 362.61 L417.43 362.62 L418.15 362.63 L418.87 362.63 L419.59 362.64 L420.31 362.65 L421.03 362.66 L421.75 362.67 L422.47 362.68 L423.19 362.69 L423.91 362.70 L424.63 362.70 L425.35 362.71 L426.07 362.72 L426.79 362.73 L427.51 362.74 L428.23 362.75 L428.95 362.76 L429.67 362.77 L430.39 362.78 L431.11 362.79 L431.83 362.80 L432.55 362.81 L433.27 362.82 L433.99 362.83 L434.71 362.84 L435.43 362.85 L436.15 362.86 L436.87 362.87 L437.59 362.88 L438.31 362.89 L439.03 362.90 L439.75 362.91 L440.47 362.92 L441.19 362.93 L441.91 362.94 L442.63 362.95 L443.35 362.96 L444.07 362.97 L444.79 362.98 L445.51 362.99 L446.23 363.01 L446.95 363.02 L447.67 363.03 L448.39 363.04 L449.11 363.05 L449.83 363.06 L450.55 363.07 L451.27 363.09 L451.99 363.10 L452.71 363.11 L453.43 363.12 L454.15 363.14 L454.87 363.15 L455.59 363.16 L456.31 363.17 L457.03 363.18 L457.75 363.20 L458.47 363.21 L459.19 363.22 L459.91 363.24 L460.63 363.25 L461.35 363.26 L462.07 363.27 L462.79 363.29 L463.51 363.30 L464.23 363.31 L464.95 363.33 L465.67 363.34 L466.39 363.36 L467.11 363.37 L467.83 363.38 L468.55 363.40 L469.27 363.41 L469.99 363.43 L470.71 363.44 L471.43 363.45 L472.15 363.47 L472.87 363.48 L473.60 363.50 L474.32 363.51 L475.04 363.53 L475.76 363.54 L476.48 363.56 L477.20 363.57 L477.92 363.58 L478.64 363.60 L479.36 363.61 L480.08 363.63 L480.80 363.65 L481.52 363.66 L482.24 363.68 L482.96 363.69 L483.68 363.71 L484.40 363.72 L485.12 363.74 L485.84 363.75 L486.56 363.77 L487.28 363.78 L488.00 363.80 L488.72 363.82 L489.44 363.83 L490.16 363.85 L490.88 363.87 L491.60 363.88 L492.32 363.90 L493.04 363.91 L493.76 363.93 L494.48 363.95 L495.20 363.96 L495.92 363.98 L496.64 364.00 L497.36 364.01 L498.08 364.03 L498.80 364.05 L499.52 364.06 L500.24 364.08 L500.96 364.10 L501.68 364.11 L502.40 364.13 L503.12 364.15 L503.84 364.17 L504.56 364.18 L505.28 364.20 L506.00 364.22 L506.72 364.24 L507.44 364.25 L508.16 364.27 L508.88 364.29 L509.60 364.31" stroke="#dc00e0" stroke-width="2.1" stroke-dasharray="1.9 2.3"/>
</g>
<path d="M84.77 397.00 V393.00 M93.44 397.00 V393.00 M102.11 397.00 V393.00 M110.78 397.00 V393.00 M119.45 397.00 V393.00 M128.12 397.00 V393.00 M136.79 397.00 V393.00 M145.46 397.00 V393.00 M154.13 397.00 V393.00 M162.80 397.00 V391.00 M171.47 397.00 V393.00 M180.14 397.00 V393.00 M188.81 397.00 V393.00 M197.48 397.00 V393.00 M206.15 397.00 V393.00 M214.82 397.00 V393.00 M223.49 397.00 V393.00 M232.16 397.00 V393.00 M240.83 397.00 V393.00 M249.50 397.00 V391.00 M258.17 397.00 V393.00 M266.84 397.00 V393.00 M275.51 397.00 V393.00 M284.18 397.00 V393.00 M292.85 397.00 V393.00 M301.52 397.00 V393.00 M310.19 397.00 V393.00 M318.86 397.00 V393.00 M327.53 397.00 V393.00 M336.20 397.00 V391.00 M344.87 397.00 V393.00 M353.54 397.00 V393.00 M362.21 397.00 V393.00 M370.88 397.00 V393.00 M379.55 397.00 V393.00 M388.22 397.00 V393.00 M396.89 397.00 V393.00 M405.56 397.00 V393.00 M414.23 397.00 V393.00 M422.90 397.00 V391.00 M431.57 397.00 V393.00 M440.24 397.00 V393.00 M448.91 397.00 V393.00 M457.58 397.00 V393.00 M466.25 397.00 V393.00 M474.92 397.00 V393.00 M483.59 397.00 V393.00 M492.26 397.00 V393.00 M500.93 397.00 V393.00 M76.10 390.04 H80.10 M76.10 383.09 H80.10 M76.10 376.13 H80.10 M76.10 369.18 H80.10 M76.10 362.22 H82.10 M76.10 355.26 H80.10 M76.10 348.31 H80.10 M76.10 341.35 H80.10 M76.10 334.40 H80.10 M76.10 327.44 H82.10 M76.10 320.48 H80.10 M76.10 313.53 H80.10 M76.10 306.57 H80.10 M76.10 299.62 H80.10 M76.10 292.66 H80.10 M76.10 285.70 H80.10 M76.10 278.75 H80.10 M76.10 271.79 H80.10 M76.10 264.84 H80.10 M76.10 257.88 H82.10 M76.10 250.92 H80.10 M76.10 243.97 H80.10 M76.10 237.01 H80.10 M76.10 230.06 H80.10 M76.10 223.10 H80.10 M76.10 216.14 H80.10 M76.10 209.19 H80.10 M76.10 202.23 H80.10 M76.10 195.28 H80.10 M76.10 188.32 H82.10 M76.10 181.36 H80.10 M76.10 174.41 H80.10 M76.10 167.45 H80.10 M76.10 160.50 H80.10 M76.10 153.54 H80.10 M76.10 146.58 H80.10 M76.10 139.63 H80.10 M76.10 132.67 H80.10 M76.10 125.72 H80.10 M76.10 118.76 H82.10 M76.10 111.80 H80.10 M76.10 104.85 H80.10 M76.10 97.89 H80.10 M76.10 90.94 H80.10 M76.10 83.98 H80.10 M76.10 77.02 H80.10 M76.10 70.07 H80.10 M76.10 63.11 H80.10 M76.10 56.16 H80.10" stroke="#000" stroke-width="1.5" fill="none"/>
<rect x="76.10" y="49.20" width="433.50" height="347.80" fill="none" stroke="#000" stroke-width="1.9"/>
<text x="69.8" y="56.60" class="tl" text-anchor="end">0.9</text>
<text x="69.8" y="126.16" class="tl" text-anchor="end">0.7</text>
<text x="69.8" y="195.72" class="tl" text-anchor="end">0.5</text>
<text x="69.8" y="265.28" class="tl" text-anchor="end">0.3</text>
<text x="69.8" y="334.84" class="tl" text-anchor="end">0.1</text>
<text x="69.8" y="369.62" class="tl" text-anchor="end">0</text>
<text x="69.8" y="404.40" class="tl" text-anchor="end">-0.1</text>
<text x="76.10" y="422.10" class="tl" text-anchor="middle">0</text>
<text x="162.80" y="422.10" class="tl" text-anchor="middle">10</text>
<text x="249.50" y="422.10" class="tl" text-anchor="middle">20</text>
<text x="336.20" y="422.10" class="tl" text-anchor="middle">30</text>
<text x="422.90" y="422.10" class="tl" text-anchor="middle">40</text>
<text x="509.60" y="422.10" class="tl" text-anchor="middle">50</text>
<text x="280.00" y="454.10" class="ax">&#915;t</text>
<g transform="translate(24.2 250.00) rotate(-90)">
<text x="0" y="0" class="chi" transform="translate(18.60 1.5) scale(-1.13 1)">&#967;</text>
<text x="4.10" y="1.00" class="dot">&#729;</text>
<text x="19.00" y="3.50" class="sl">/</text>
<text x="34.00" y="0" class="ax">&#915;</text>
</g>
<text x="1.6" y="25.40" class="pl">(<tspan font-style="italic">a</tspan>)</text>
<line x1="350.80" y1="67.90" x2="383.10" y2="67.90" stroke="#000" stroke-width="2.1"/>
<text x="387.30" y="72.20" class="lg">Re=1</text>
<line x1="350.80" y1="83.03" x2="383.10" y2="83.03" stroke="#d5101f" stroke-width="2.2" stroke-dasharray="8.2 8.6"/>
<text x="387.30" y="87.33" class="lg">Re=15</text>
<line x1="350.80" y1="98.16" x2="383.10" y2="98.16" stroke="#0800cc" stroke-width="2.1" stroke-dasharray="8 2.4 4.2 2.4"/>
<text x="387.30" y="102.46" class="lg">Re=30</text>
<line x1="350.80" y1="113.29" x2="383.10" y2="113.29" stroke="#dc00e0" stroke-width="2.1" stroke-dasharray="1.9 2.3"/>
<text x="387.30" y="117.59" class="lg">Re=45</text>
<g clip-path="url(#clip1)" fill="none" stroke-linejoin="round">
<line x1="76.10" y1="834.22" x2="509.60" y2="834.22" stroke="#000" stroke-width="1.5" stroke-dasharray="4 4.67" stroke-dashoffset="-8.30"/>
<path d="M76.10 553.89 L76.82 554.88 L77.53 557.78 L78.25 562.48 L78.97 568.77 L79.68 576.41 L80.40 585.11 L81.12 594.59 L81.83 604.58 L82.55 614.83 L83.27 625.14 L83.98 635.33 L84.70 645.27 L85.42 654.86 L86.13 664.02 L86.85 672.71 L87.57 680.90 L88.28 688.59 L89.00 695.78 L89.72 702.47 L90.43 708.70 L91.15 714.48 L91.87 719.83 L92.59 724.78 L93.30 729.35 L94.02 733.58 L94.74 737.47 L95.45 741.07 L96.17 744.38 L96.89 747.43 L97.60 750.23 L98.32 752.81 L99.04 755.18 L99.75 757.35 L100.47 759.34 L101.19 761.16 L101.90 762.81 L102.62 764.32 L103.34 765.68 L104.05 766.90 L104.77 768.00 L105.49 768.98 L106.20 769.84 L106.92 770.60 L107.64 771.24 L108.35 771.78 L109.07 772.22 L109.79 772.56 L110.50 772.80 L111.22 772.95 L111.94 773.01 L112.65 772.97 L113.37 772.83 L114.09 772.60 L114.80 772.28 L115.52 771.86 L116.24 771.33 L116.95 770.70 L117.67 769.97 L118.39 769.13 L119.10 768.17 L119.82 767.09 L120.54 765.88 L121.25 764.54 L121.97 763.06 L122.69 761.43 L123.41 759.64 L124.12 757.68 L124.84 755.54 L125.56 753.20 L126.27 750.66 L126.99 747.89 L127.71 744.88 L128.42 741.61 L129.14 738.06 L129.86 734.21 L130.57 730.04 L131.29 725.52 L132.01 720.64 L132.72 715.35 L133.44 709.64 L134.16 703.49 L134.87 696.87 L135.59 689.76 L136.31 682.15 L137.02 674.03 L137.74 665.42 L138.46 656.34 L139.17 646.81 L139.89 636.93 L140.61 626.76 L141.32 616.46 L142.04 606.18 L142.76 596.14 L143.47 586.56 L144.19 577.72 L144.91 569.90 L145.62 563.38 L146.34 558.41 L147.06 555.21 L147.77 553.92 L148.49 554.59 L149.21 557.20 L149.92 561.63 L150.64 567.68 L151.36 575.12 L152.07 583.67 L152.79 593.05 L153.51 602.97 L154.22 613.20 L154.94 623.52 L155.66 633.74 L156.38 643.72 L157.09 653.37 L157.81 662.60 L158.53 671.36 L159.24 679.64 L159.96 687.41 L160.68 694.67 L161.39 701.45 L162.11 707.75 L162.83 713.59 L163.54 719.01 L164.26 724.02 L164.98 728.65 L165.69 732.93 L166.41 736.88 L167.13 740.52 L167.84 743.87 L168.56 746.96 L169.28 749.81 L169.99 752.42 L170.71 754.82 L171.43 757.02 L172.14 759.04 L172.86 760.88 L173.58 762.56 L174.29 764.09 L175.01 765.47 L175.73 766.72 L176.44 767.84 L177.16 768.84 L177.88 769.72 L178.59 770.48 L179.31 771.14 L180.03 771.70 L180.74 772.16 L181.46 772.51 L182.18 772.77 L182.89 772.94 L183.61 773.00 L184.33 772.98 L185.04 772.86 L185.76 772.65 L186.48 772.34 L187.20 771.93 L187.91 771.42 L188.63 770.81 L189.35 770.09 L190.06 769.27 L190.78 768.33 L191.50 767.27 L192.21 766.08 L192.93 764.76 L193.65 763.30 L194.36 761.70 L195.08 759.93 L195.80 758.00 L196.51 755.89 L197.23 753.58 L197.95 751.07 L198.66 748.34 L199.38 745.37 L200.10 742.14 L200.81 738.64 L201.53 734.84 L202.25 730.72 L202.96 726.26 L203.68 721.43 L204.40 716.21 L205.11 710.57 L205.83 704.49 L206.55 697.95 L207.26 690.91 L207.98 683.38 L208.70 675.35 L209.41 666.82 L210.13 657.80 L210.85 648.35 L211.56 638.51 L212.28 628.38 L213.00 618.09 L213.71 607.80 L214.43 597.70 L215.15 588.03 L215.86 579.05 L216.58 571.05 L217.30 564.31 L218.02 559.08 L218.73 555.59 L219.45 553.99 L220.17 554.35 L220.88 556.66 L221.60 560.81 L222.32 566.63 L223.03 573.86 L223.75 582.26 L224.47 591.52 L225.18 601.38 L225.90 611.57 L226.62 621.89 L227.33 632.13 L228.05 642.17 L228.77 651.87 L229.48 661.17 L230.20 670.01 L230.92 678.36 L231.63 686.21 L232.35 693.56 L233.07 700.41 L233.78 706.78 L234.50 712.70 L235.22 718.18 L235.93 723.25 L236.65 727.94 L237.37 732.28 L238.08 736.28 L238.80 739.96 L239.52 743.36 L240.23 746.49 L240.95 749.37 L241.67 752.02 L242.38 754.45 L243.10 756.69 L243.82 758.73 L244.53 760.60 L245.25 762.31 L245.97 763.86 L246.68 765.26 L247.40 766.53 L248.12 767.67 L248.84 768.69 L249.55 769.58 L250.27 770.37 L250.99 771.05 L251.70 771.62 L252.42 772.09 L253.14 772.46 L253.85 772.74 L254.57 772.92 L255.29 773.00 L256.00 772.99" stroke="#000" stroke-width="2.1"/>
<path d="M76.10 576.85 L76.82 577.69 L77.54 580.17 L78.26 584.20 L78.98 589.63 L79.70 596.25 L80.42 603.86 L81.14 612.21 L81.86 621.09 L82.58 630.30 L83.30 639.64 L84.02 648.97 L84.74 658.16 L85.46 667.11 L86.18 675.74 L86.90 684.00 L87.62 691.87 L88.34 699.32 L89.06 706.35 L89.78 712.96 L90.50 719.16 L91.22 724.96 L91.94 730.39 L92.66 735.45 L93.38 740.17 L94.10 744.58 L94.82 748.68 L95.54 752.51 L96.26 756.08 L96.98 759.41 L97.70 762.51 L98.42 765.41 L99.14 768.11 L99.86 770.64 L100.58 773.00 L101.30 775.20 L102.02 777.26 L102.74 779.19 L103.46 781.00 L104.18 782.69 L104.90 784.28 L105.62 785.76 L106.34 787.16 L107.06 788.46 L107.78 789.69 L108.50 790.84 L109.22 791.92 L109.94 792.93 L110.66 793.89 L111.38 794.78 L112.10 795.62 L112.83 796.40 L113.55 797.14 L114.27 797.83 L114.99 798.48 L115.71 799.08 L116.43 799.65 L117.15 800.17 L117.87 800.66 L118.59 801.12 L119.31 801.55 L120.03 801.94 L120.75 802.30 L121.47 802.63 L122.19 802.94 L122.91 803.22 L123.63 803.47 L124.35 803.69 L125.07 803.90 L125.79 804.07 L126.51 804.22 L127.23 804.35 L127.95 804.46 L128.67 804.54 L129.39 804.60 L130.11 804.64 L130.83 804.66 L131.55 804.65 L132.27 804.62 L132.99 804.57 L133.71 804.50 L134.43 804.40 L135.15 804.28 L135.87 804.14 L136.59 803.97 L137.31 803.78 L138.03 803.57 L138.75 803.33 L139.47 803.06 L140.19 802.77 L140.91 802.45 L141.63 802.10 L142.35 801.72 L143.07 801.31 L143.79 800.86 L144.51 800.39 L145.23 799.88 L145.95 799.33 L146.67 798.74 L147.39 798.11 L148.11 797.44 L148.83 796.72 L149.55 795.96 L150.27 795.14 L150.99 794.27 L151.71 793.35 L152.43 792.36 L153.15 791.31 L153.87 790.19 L154.59 789.00 L155.31 787.72 L156.03 786.37 L156.75 784.92 L157.47 783.38 L158.19 781.74 L158.91 779.98 L159.63 778.10 L160.35 776.10 L161.07 773.96 L161.79 771.66 L162.51 769.21 L163.23 766.59 L163.95 763.77 L164.67 760.76 L165.39 757.53 L166.11 754.07 L166.83 750.35 L167.55 746.36 L168.27 742.09 L168.99 737.50 L169.71 732.59 L170.43 727.32 L171.15 721.68 L171.87 715.65 L172.59 709.22 L173.31 702.37 L174.03 695.10 L174.75 687.41 L175.47 679.31 L176.19 670.83 L176.91 662.01 L177.63 652.91 L178.35 643.63 L179.07 634.28 L179.79 624.99 L180.51 615.95 L181.23 607.34 L181.95 599.39 L182.67 592.32 L183.39 586.36 L184.11 581.71 L184.84 578.55 L185.56 577.00 L186.28 577.12 L187.00 578.92 L187.72 582.30 L188.44 587.16 L189.16 593.30 L189.88 600.51 L190.60 608.57 L191.32 617.26 L192.04 626.35 L192.76 635.65 L193.48 645.01 L194.20 654.27 L194.92 663.33 L195.64 672.10 L196.36 680.53 L197.08 688.57 L197.80 696.20 L198.52 703.41 L199.24 710.20 L199.96 716.57 L200.68 722.54 L201.40 728.12 L202.12 733.33 L202.84 738.20 L203.56 742.74 L204.28 746.97 L205.00 750.91 L205.72 754.59 L206.44 758.02 L207.16 761.22 L207.88 764.20 L208.60 766.98 L209.32 769.58 L210.04 772.01 L210.76 774.28 L211.48 776.40 L212.20 778.39 L212.92 780.24 L213.64 781.98 L214.36 783.61 L215.08 785.14 L215.80 786.57 L216.52 787.92 L217.24 789.18 L217.96 790.36 L218.68 791.47 L219.40 792.51 L220.12 793.49 L220.84 794.41 L221.56 795.27 L222.28 796.07 L223.00 796.83 L223.72 797.54 L224.44 798.21 L225.16 798.83 L225.88 799.41 L226.60 799.95 L227.32 800.46 L228.04 800.93 L228.76 801.37 L229.48 801.78 L230.20 802.15 L230.92 802.50 L231.64 802.81 L232.36 803.10 L233.08 803.36 L233.80 803.60 L234.52 803.81 L235.24 804.00 L235.96 804.16 L236.68 804.30 L237.40 804.42 L238.12 804.51 L238.84 804.58 L239.56 804.63 L240.28 804.65 L241.00 804.66 L241.72 804.64 L242.44 804.59 L243.16 804.53 L243.88 804.44 L244.60 804.34 L245.32 804.20 L246.04 804.05 L246.76 803.87 L247.48 803.66 L248.20 803.43 L248.92 803.18 L249.64 802.90 L250.36 802.59 L251.08 802.25 L251.80 801.88 L252.52 801.49 L253.24 801.06 L253.96 800.59 L254.68 800.10 L255.40 799.57 L256.12 798.99 L256.85 798.38 L257.57 797.73 L258.29 797.03 L259.01 796.29 L259.73 795.50 L260.45 794.65 L261.17 793.75 L261.89 792.79 L262.61 791.77 L263.33 790.68 L264.05 789.51 L264.77 788.28 L265.49 786.96 L266.21 785.55 L266.93 784.05 L267.65 782.45 L268.37 780.74 L269.09 778.92 L269.81 776.97 L270.53 774.89 L271.25 772.66 L271.97 770.28 L272.69 767.73 L273.41 765.00 L274.13 762.07 L274.85 758.93 L275.57 755.57 L276.29 751.97 L277.01 748.10 L277.73 743.95 L278.45 739.50 L279.17 734.73 L279.89 729.61 L280.61 724.13 L281.33 718.27 L282.05 712.02 L282.77 705.35 L283.49 698.25 L284.21 690.74 L284.93 682.81 L285.65 674.49 L286.37 665.81 L287.09 656.82 L287.81 647.61 L288.53 638.27 L289.25 628.93 L289.97 619.76 L290.69 610.94 L291.41 602.68 L292.13 595.21 L292.85 588.75 L293.57 583.52 L294.29 579.71 L295.01 577.46 L295.73 576.87 L296.45 577.95 L297.17 580.67 L297.89 584.92 L298.61 590.53 L299.33 597.32 L300.05 605.04 L300.77 613.49 L301.49 622.43 L302.21 631.67 L302.93 641.02 L303.65 650.34 L304.37 659.49 L305.09 668.40 L305.81 676.98 L306.53 685.19 L307.25 693.00 L307.97 700.39 L308.69 707.35 L309.41 713.90 L310.13 720.04 L310.85 725.78 L311.57 731.15 L312.29 736.17 L313.01 740.84 L313.73 745.20 L314.45 749.27 L315.17 753.05 L315.89 756.59 L316.61 759.88 L317.33 762.95 L318.05 765.82 L318.77 768.50 L319.49 771.00 L320.21 773.33 L320.93 775.51 L321.65 777.56 L322.37 779.47 L323.09 781.26 L323.81 782.93 L324.53 784.50 L325.25 785.97 L325.97 787.35 L326.69 788.65 L327.41 789.86 L328.13 791.00 L328.85 792.07 L329.58 793.08 L330.30 794.02 L331.02 794.91 L331.74 795.74 L332.46 796.51 L333.18 797.24 L333.90 797.93 L334.62 798.57 L335.34 799.17 L336.06 799.73 L336.78 800.25 L337.50 800.73 L338.22 801.19 L338.94 801.61 L339.66 801.99 L340.38 802.35 L341.10 802.68 L341.82 802.98 L342.54 803.26 L343.26 803.50 L343.98 803.73 L344.70 803.92 L345.42 804.10 L346.14 804.24 L346.86 804.37 L347.58 804.47 L348.30 804.55 L349.02 804.61 L349.74 804.64 L350.46 804.66 L351.18 804.65 L351.90 804.62 L352.62 804.56 L353.34 804.48 L354.06 804.38 L354.78 804.26 L355.50 804.12 L356.22 803.95 L356.94 803.75 L357.66 803.53 L358.38 803.29 L359.10 803.02 L359.82 802.72 L360.54 802.40 L361.26 802.04 L361.98 801.66 L362.70 801.24 L363.42 800.80 L364.14 800.31 L364.86 799.80 L365.58 799.24 L366.30 798.65 L367.02 798.01 L367.74 797.34 L368.46 796.61 L369.18 795.84 L369.90 795.02 L370.62 794.14 L371.34 793.21 L372.06 792.21 L372.78 791.15 L373.50 790.02 L374.22 788.81 L374.94 787.53 L375.66 786.16 L376.38 784.70 L377.10 783.15 L377.82 781.48 L378.54 779.71 L379.26 777.82 L379.98 775.79 L380.70 773.63 L381.42 771.31 L382.14 768.84 L382.86 766.18 L383.58 763.34 L384.30 760.30 L385.02 757.03 L385.74 753.53 L386.46 749.78 L387.18 745.75 L387.90 741.43 L388.62 736.80 L389.34 731.84 L390.06 726.51 L390.78 720.82 L391.50 714.73 L392.22 708.24 L392.94 701.33 L393.66 694.00 L394.38 686.24 L395.10 678.08 L395.82 669.55 L396.54 660.69 L397.26 651.56 L397.98 642.26 L398.70 632.90 L399.42 623.64 L400.14 614.65 L400.86 606.12 L401.59 598.29 L402.31 591.37 L403.03 585.59 L403.75 581.15 L404.47 578.22 L405.19 576.91 L405.91 577.28 L406.63 579.32 L407.35 582.93 L408.07 587.99 L408.79 594.30 L409.51 601.65 L410.23 609.82 L410.95 618.57 L411.67 627.71 L412.39 637.03 L413.11 646.38 L413.83 655.62 L414.55 664.64 L415.27 673.36 L415.99 681.74 L416.71 689.72 L417.43 697.29 L418.15 704.43 L418.87 711.16 L419.59 717.47 L420.31 723.38 L421.03 728.91 L421.75 734.07 L422.47 738.89 L423.19 743.38 L423.91 747.57 L424.63 751.47 L425.35 755.11 L426.07 758.50 L426.79 761.67 L427.51 764.62 L428.23 767.38 L428.95 769.95 L429.67 772.35 L430.39 774.60 L431.11 776.70 L431.83 778.67 L432.55 780.51 L433.27 782.23 L433.99 783.85 L434.71 785.36 L435.43 786.78 L436.15 788.11 L436.87 789.36 L437.59 790.53 L438.31 791.63 L439.03 792.66 L439.75 793.63 L440.47 794.54 L441.19 795.39 L441.91 796.19 L442.63 796.94 L443.35 797.64 L444.07 798.30 L444.79 798.92 L445.51 799.49 L446.23 800.03 L446.95 800.53 L447.67 801.00 L448.39 801.43 L449.11 801.83 L449.83 802.20 L450.55 802.54 L451.27 802.86 L451.99 803.14 L452.71 803.40 L453.43 803.63 L454.15 803.84 L454.87 804.02 L455.59 804.18 L456.31 804.32 L457.03 804.43 L457.75 804.52 L458.47 804.59 L459.19 804.63 L459.91 804.65 L460.63 804.65 L461.35 804.63 L462.07 804.59 L462.79 804.52 L463.51 804.43 L464.23 804.32 L464.95 804.18 L465.67 804.02 L466.39 803.84 L467.11 803.63 L467.83 803.40 L468.55 803.14 L469.27 802.85 L469.99 802.54 L470.71 802.20 L471.43 801.83 L472.15 801.42 L472.87 800.99 L473.60 800.52 L474.32 800.02 L475.04 799.48 L475.76 798.91 L476.48 798.29 L477.20 797.63 L477.92 796.93 L478.64 796.18 L479.36 795.38 L480.08 794.52 L480.80 793.61 L481.52 792.64 L482.24 791.61 L482.96 790.51 L483.68 789.34 L484.40 788.09 L485.12 786.76 L485.84 785.34 L486.56 783.82 L487.28 782.21 L488.00 780.48 L488.72 778.64 L489.44 776.67 L490.16 774.57 L490.88 772.32 L491.60 769.91 L492.32 767.34 L493.04 764.58 L493.76 761.62 L494.48 758.45 L495.20 755.06 L495.92 751.41 L496.64 747.51 L497.36 743.31 L498.08 738.82 L498.80 733.99 L499.52 728.83 L500.24 723.29 L500.96 717.38 L501.68 711.06 L502.40 704.33 L503.12 697.17 L503.84 689.60 L504.56 681.61 L505.28 673.23 L506.00 664.50 L506.72 655.48 L507.44 646.24 L508.16 636.89 L508.88 627.57 L509.60 618.44" stroke="#d5101f" stroke-width="2.2" stroke-dasharray="8.2 8.6"/>
<path d="M76.10 592.85 L76.82 593.66 L77.54 596.05 L78.26 599.94 L78.98 605.18 L79.70 611.57 L80.42 618.90 L81.14 626.96 L81.86 635.53 L82.58 644.40 L83.30 653.41 L84.02 662.41 L84.74 671.26 L85.46 679.89 L86.18 688.21 L86.90 696.18 L87.62 703.77 L88.34 710.96 L89.06 717.74 L89.78 724.11 L90.50 730.10 L91.22 735.70 L91.94 740.94 L92.66 745.84 L93.38 750.41 L94.10 754.68 L94.82 758.66 L95.54 762.38 L96.26 765.84 L96.98 769.08 L97.70 772.11 L98.42 774.93 L99.14 777.58 L99.86 780.05 L100.58 782.37 L101.30 784.54 L102.02 786.58 L102.74 788.49 L103.46 790.29 L104.18 791.97 L104.90 793.56 L105.62 795.06 L106.34 796.47 L107.06 797.80 L107.78 799.05 L108.50 800.24 L109.22 801.36 L109.94 802.42 L110.66 803.42 L111.38 804.37 L112.10 805.27 L112.83 806.13 L113.55 806.94 L114.27 807.71 L114.99 808.44 L115.71 809.13 L116.43 809.80 L117.15 810.43 L117.87 811.03 L118.59 811.60 L119.31 812.14 L120.03 812.66 L120.75 813.16 L121.47 813.63 L122.19 814.09 L122.91 814.52 L123.63 814.93 L124.35 815.33 L125.07 815.71 L125.79 816.07 L126.51 816.41 L127.23 816.75 L127.95 817.06 L128.67 817.37 L129.39 817.66 L130.11 817.94 L130.83 818.20 L131.55 818.46 L132.27 818.71 L132.99 818.94 L133.71 819.17 L134.43 819.38 L135.15 819.59 L135.87 819.79 L136.59 819.98 L137.31 820.16 L138.03 820.34 L138.75 820.50 L139.47 820.66 L140.19 820.82 L140.91 820.97 L141.63 821.11 L142.35 821.24 L143.07 821.37 L143.79 821.49 L144.51 821.61 L145.23 821.72 L145.95 821.83 L146.67 821.93 L147.39 822.02 L148.11 822.12 L148.83 822.20 L149.55 822.28 L150.27 822.36 L150.99 822.44 L151.71 822.50 L152.43 822.57 L153.15 822.63 L153.87 822.69 L154.59 822.74 L155.31 822.79 L156.03 822.83 L156.75 822.87 L157.47 822.91 L158.19 822.95 L158.91 822.98 L159.63 823.00 L160.35 823.03 L161.07 823.05 L161.79 823.06 L162.51 823.07 L163.23 823.08 L163.95 823.09 L164.67 823.09 L165.39 823.09 L166.11 823.08 L166.83 823.08 L167.55 823.06 L168.27 823.05 L168.99 823.03 L169.71 823.01 L170.43 822.98 L171.15 822.95 L171.87 822.92 L172.59 822.88 L173.31 822.84 L174.03 822.80 L174.75 822.75 L175.47 822.70 L176.19 822.64 L176.91 822.58 L177.63 822.52 L178.35 822.45 L179.07 822.38 L179.79 822.30 L180.51 822.22 L181.23 822.13 L181.95 822.04 L182.67 821.95 L183.39 821.85 L184.11 821.74 L184.84 821.63 L185.56 821.52 L186.28 821.40 L187.00 821.27 L187.72 821.14 L188.44 821.00 L189.16 820.85 L189.88 820.70 L190.60 820.54 L191.32 820.37 L192.04 820.20 L192.76 820.02 L193.48 819.83 L194.20 819.63 L194.92 819.43 L195.64 819.21 L196.36 818.99 L197.08 818.76 L197.80 818.51 L198.52 818.26 L199.24 818.00 L199.96 817.72 L200.68 817.43 L201.40 817.13 L202.12 816.82 L202.84 816.49 L203.56 816.14 L204.28 815.79 L205.00 815.41 L205.72 815.02 L206.44 814.61 L207.16 814.18 L207.88 813.73 L208.60 813.27 L209.32 812.77 L210.04 812.26 L210.76 811.72 L211.48 811.15 L212.20 810.56 L212.92 809.94 L213.64 809.28 L214.36 808.59 L215.08 807.87 L215.80 807.11 L216.52 806.31 L217.24 805.46 L217.96 804.57 L218.68 803.63 L219.40 802.64 L220.12 801.59 L220.84 800.49 L221.56 799.32 L222.28 798.08 L223.00 796.76 L223.72 795.37 L224.44 793.90 L225.16 792.33 L225.88 790.66 L226.60 788.89 L227.32 787.01 L228.04 785.00 L228.76 782.85 L229.48 780.57 L230.20 778.13 L230.92 775.53 L231.64 772.74 L232.36 769.76 L233.08 766.57 L233.80 763.15 L234.52 759.49 L235.24 755.57 L235.96 751.37 L236.68 746.86 L237.40 742.04 L238.12 736.88 L238.84 731.35 L239.56 725.45 L240.28 719.16 L241.00 712.47 L241.72 705.37 L242.44 697.87 L243.16 689.98 L243.88 681.73 L244.60 673.17 L245.32 664.35 L246.04 655.38 L246.76 646.36 L247.48 637.44 L248.20 628.79 L248.92 620.60 L249.64 613.09 L250.36 606.48 L251.08 600.98 L251.80 596.78 L252.52 594.05 L253.24 592.89 L253.96 593.34 L254.68 595.40 L255.40 598.98 L256.12 603.93 L256.85 610.09 L257.57 617.23 L258.29 625.15 L259.01 633.63 L259.73 642.45 L260.45 651.44 L261.17 660.45 L261.89 669.35 L262.61 678.03 L263.33 686.42 L264.05 694.48 L264.77 702.15 L265.49 709.42 L266.21 716.29 L266.93 722.76 L267.65 728.83 L268.37 734.51 L269.09 739.83 L269.81 744.80 L270.53 749.44 L271.25 753.77 L271.97 757.82 L272.69 761.59 L273.41 765.11 L274.13 768.39 L274.85 771.46 L275.57 774.33 L276.29 777.02 L277.01 779.53 L277.73 781.88 L278.45 784.08 L279.17 786.15 L279.89 788.08 L280.61 789.90 L281.33 791.62 L282.05 793.22 L282.77 794.74 L283.49 796.17 L284.21 797.51 L284.93 798.78 L285.65 799.98 L286.37 801.12 L287.09 802.19 L287.81 803.21 L288.53 804.17 L289.25 805.08 L289.97 805.94 L290.69 806.76 L291.41 807.54 L292.13 808.28 L292.85 808.98 L293.57 809.65 L294.29 810.29 L295.01 810.90 L295.73 811.48 L296.45 812.03 L297.17 812.55 L297.89 813.05 L298.61 813.53 L299.33 813.99 L300.05 814.43 L300.77 814.84 L301.49 815.24 L302.21 815.63 L302.93 815.99 L303.65 816.34 L304.37 816.67 L305.09 816.99 L305.81 817.30 L306.53 817.60 L307.25 817.88 L307.97 818.15 L308.69 818.41 L309.41 818.65 L310.13 818.89 L310.85 819.12 L311.57 819.34 L312.29 819.55 L313.01 819.75 L313.73 819.94 L314.45 820.12 L315.17 820.30 L315.89 820.47 L316.61 820.63 L317.33 820.79 L318.05 820.93 L318.77 821.08 L319.49 821.21 L320.21 821.34 L320.93 821.46 L321.65 821.58 L322.37 821.70 L323.09 821.80 L323.81 821.91 L324.53 822.00 L325.25 822.10 L325.97 822.18 L326.69 822.27 L327.41 822.35 L328.13 822.42 L328.85 822.49 L329.58 822.56 L330.30 822.62 L331.02 822.67 L331.74 822.73 L332.46 822.78 L333.18 822.82 L333.90 822.87 L334.62 822.90 L335.34 822.94 L336.06 822.97 L336.78 823.00 L337.50 823.02 L338.22 823.04 L338.94 823.06 L339.66 823.07 L340.38 823.08 L341.10 823.09 L341.82 823.09 L342.54 823.09 L343.26 823.09 L343.98 823.08 L344.70 823.07 L345.42 823.05 L346.14 823.03 L346.86 823.01 L347.58 822.99 L348.30 822.96 L349.02 822.93 L349.74 822.89 L350.46 822.85 L351.18 822.81 L351.90 822.76 L352.62 822.71 L353.34 822.66 L354.06 822.60 L354.78 822.53 L355.50 822.47 L356.22 822.39 L356.94 822.32 L357.66 822.24 L358.38 822.15 L359.10 822.06 L359.82 821.97 L360.54 821.87 L361.26 821.77 L361.98 821.66 L362.70 821.54 L363.42 821.42 L364.14 821.30 L364.86 821.16 L365.58 821.03 L366.30 820.88 L367.02 820.73 L367.74 820.57 L368.46 820.41 L369.18 820.24 L369.90 820.06 L370.62 819.87 L371.34 819.68 L372.06 819.47 L372.78 819.26 L373.50 819.04 L374.22 818.81 L374.94 818.57 L375.66 818.32 L376.38 818.05 L377.10 817.78 L377.82 817.50 L378.54 817.20 L379.26 816.89 L379.98 816.56 L380.70 816.22 L381.42 815.87 L382.14 815.49 L382.86 815.11 L383.58 814.70 L384.30 814.28 L385.02 813.83 L385.74 813.37 L386.46 812.88 L387.18 812.37 L387.90 811.84 L388.62 811.28 L389.34 810.69 L390.06 810.07 L390.78 809.43 L391.50 808.75 L392.22 808.03 L392.94 807.28 L393.66 806.48 L394.38 805.65 L395.10 804.77 L395.82 803.84 L396.54 802.86 L397.26 801.83 L397.98 800.73 L398.70 799.58 L399.42 798.35 L400.14 797.06 L400.86 795.68 L401.59 794.23 L402.31 792.68 L403.03 791.03 L403.75 789.29 L404.47 787.43 L405.19 785.45 L405.91 783.33 L406.63 781.08 L407.35 778.68 L408.07 776.11 L408.79 773.36 L409.51 770.43 L410.23 767.28 L410.95 763.92 L411.67 760.31 L412.39 756.45 L413.11 752.31 L413.83 747.87 L414.55 743.12 L415.27 738.03 L415.99 732.59 L416.71 726.77 L417.43 720.57 L418.15 713.96 L418.87 706.95 L419.59 699.54 L420.31 691.73 L421.03 683.56 L421.75 675.06 L422.47 666.29 L423.19 657.34 L423.91 648.32 L424.63 639.37 L425.35 630.64 L426.07 622.34 L426.79 614.66 L427.51 607.83 L428.23 602.07 L428.95 597.57 L429.67 594.51 L430.39 593.00 L431.11 593.11 L431.83 594.82 L432.55 598.07 L433.27 602.74 L433.99 608.65 L434.71 615.60 L435.43 623.37 L436.15 631.74 L436.87 640.51 L437.59 649.48 L438.31 658.50 L439.03 667.43 L439.75 676.16 L440.47 684.62 L441.19 692.75 L441.91 700.51 L442.63 707.87 L443.35 714.83 L444.07 721.38 L444.79 727.54 L445.51 733.31 L446.23 738.70 L446.95 743.75 L447.67 748.46 L448.39 752.85 L449.11 756.96 L449.83 760.79 L450.55 764.36 L451.27 767.70 L451.99 770.81 L452.71 773.72 L453.43 776.45 L454.15 778.99 L454.87 781.38 L455.59 783.61 L456.31 785.71 L457.03 787.67 L457.75 789.52 L458.47 791.25 L459.19 792.88 L459.91 794.42 L460.63 795.86 L461.35 797.23 L462.07 798.51 L462.79 799.73 L463.51 800.88 L464.23 801.96 L464.95 802.99 L465.67 803.96 L466.39 804.88 L467.11 805.76 L467.83 806.59 L468.55 807.38 L469.27 808.12 L469.99 808.83 L470.71 809.51 L471.43 810.15 L472.15 810.77 L472.87 811.35 L473.60 811.91 L474.32 812.44 L475.04 812.95 L475.76 813.43 L476.48 813.89 L477.20 814.33 L477.92 814.75 L478.64 815.16 L479.36 815.54 L480.08 815.91 L480.80 816.27 L481.52 816.60 L482.24 816.93 L482.96 817.24 L483.68 817.53 L484.40 817.82 L485.12 818.09 L485.84 818.35 L486.56 818.60 L487.28 818.84 L488.00 819.07 L488.72 819.29 L489.44 819.50 L490.16 819.70 L490.88 819.90 L491.60 820.08 L492.32 820.26 L493.04 820.43 L493.76 820.60 L494.48 820.75 L495.20 820.90 L495.92 821.05 L496.64 821.18 L497.36 821.31 L498.08 821.44 L498.80 821.56 L499.52 821.67 L500.24 821.78 L500.96 821.88 L501.68 821.98 L502.40 822.08 L503.12 822.16 L503.84 822.25 L504.56 822.33 L505.28 822.40 L506.00 822.47 L506.72 822.54 L507.44 822.60 L508.16 822.66 L508.88 822.72 L509.60 822.77" stroke="#0800cc" stroke-width="2.1" stroke-dasharray="8 2.4 4.2 2.4"/>
<path d="M76.10 630.06 L76.82 633.72 L77.54 637.46 L78.26 641.29 L78.98 645.21 L79.70 649.21 L80.42 653.28 L81.14 657.35 L81.86 661.39 L82.58 665.51 L83.30 669.85 L84.02 674.50 L84.74 679.58 L85.46 685.56 L86.18 692.33 L86.90 699.03 L87.62 705.71 L88.34 712.65 L89.06 719.65 L89.78 726.51 L90.50 733.02 L91.22 739.00 L91.94 744.25 L92.66 748.68 L93.38 752.60 L94.10 756.13 L94.82 759.37 L95.54 762.36 L96.26 765.05 L96.98 767.61 L97.70 770.23 L98.42 772.99 L99.14 775.83 L99.86 778.63 L100.58 781.31 L101.30 783.75 L102.02 785.88 L102.74 787.77 L103.46 789.58 L104.18 791.32 L104.90 792.98 L105.62 794.56 L106.34 796.06 L107.06 797.48 L107.78 798.82 L108.50 800.08 L109.22 801.25 L109.94 802.34 L110.66 803.34 L111.38 804.28 L112.10 805.18 L112.83 806.02 L113.55 806.83 L114.27 807.60 L114.99 808.32 L115.71 809.01 L116.43 809.67 L117.15 810.29 L117.87 810.88 L118.59 811.45 L119.31 811.98 L120.03 812.50 L120.75 813.01 L121.47 813.51 L122.19 813.99 L122.91 814.47 L123.63 814.93 L124.35 815.39 L125.07 815.83 L125.79 816.26 L126.51 816.68 L127.23 817.09 L127.95 817.49 L128.67 817.87 L129.39 818.25 L130.11 818.61 L130.83 818.96 L131.55 819.30 L132.27 819.63 L132.99 819.95 L133.71 820.25 L134.43 820.54 L135.15 820.82 L135.87 821.09 L136.59 821.34 L137.31 821.59 L138.03 821.82 L138.75 822.05 L139.47 822.27 L140.19 822.48 L140.91 822.69 L141.63 822.89 L142.35 823.08 L143.07 823.27 L143.79 823.45 L144.51 823.63 L145.23 823.81 L145.95 823.98 L146.67 824.14 L147.39 824.31 L148.11 824.47 L148.83 824.62 L149.55 824.78 L150.27 824.94 L150.99 825.09 L151.71 825.24 L152.43 825.39 L153.15 825.55 L153.87 825.70 L154.59 825.85 L155.31 826.00 L156.03 826.15 L156.75 826.30 L157.47 826.45 L158.19 826.59 L158.91 826.73 L159.63 826.87 L160.35 827.01 L161.07 827.14 L161.79 827.27 L162.51 827.40 L163.23 827.52 L163.95 827.64 L164.67 827.76 L165.39 827.87 L166.11 827.97 L166.83 828.08 L167.55 828.18 L168.27 828.28 L168.99 828.38 L169.71 828.48 L170.43 828.58 L171.15 828.68 L171.87 828.77 L172.59 828.87 L173.31 828.97 L174.03 829.06 L174.75 829.15 L175.47 829.24 L176.19 829.33 L176.91 829.42 L177.63 829.51 L178.35 829.60 L179.07 829.68 L179.79 829.77 L180.51 829.85 L181.23 829.94 L181.95 830.02 L182.67 830.10 L183.39 830.17 L184.11 830.25 L184.84 830.33 L185.56 830.40 L186.28 830.48 L187.00 830.55 L187.72 830.62 L188.44 830.69 L189.16 830.76 L189.88 830.82 L190.60 830.89 L191.32 830.95 L192.04 831.02 L192.76 831.08 L193.48 831.14 L194.20 831.19 L194.92 831.25 L195.64 831.30 L196.36 831.36 L197.08 831.41 L197.80 831.46 L198.52 831.51 L199.24 831.56 L199.96 831.61 L200.68 831.66 L201.40 831.70 L202.12 831.75 L202.84 831.80 L203.56 831.85 L204.28 831.89 L205.00 831.94 L205.72 831.98 L206.44 832.03 L207.16 832.07 L207.88 832.12 L208.60 832.16 L209.32 832.20 L210.04 832.24 L210.76 832.28 L211.48 832.33 L212.20 832.37 L212.92 832.41 L213.64 832.44 L214.36 832.48 L215.08 832.52 L215.80 832.56 L216.52 832.59 L217.24 832.63 L217.96 832.66 L218.68 832.70 L219.40 832.73 L220.12 832.76 L220.84 832.79 L221.56 832.82 L222.28 832.85 L223.00 832.88 L223.72 832.91 L224.44 832.94 L225.16 832.97 L225.88 832.99 L226.60 833.02 L227.32 833.04 L228.04 833.06 L228.76 833.09 L229.48 833.11 L230.20 833.13 L230.92 833.15 L231.64 833.16 L232.36 833.18 L233.08 833.20 L233.80 833.21 L234.52 833.23 L235.24 833.25 L235.96 833.26 L236.68 833.28 L237.40 833.30 L238.12 833.31 L238.84 833.33 L239.56 833.34 L240.28 833.36 L241.00 833.38 L241.72 833.39 L242.44 833.41 L243.16 833.42 L243.88 833.44 L244.60 833.45 L245.32 833.47 L246.04 833.48 L246.76 833.50 L247.48 833.51 L248.20 833.52 L248.92 833.54 L249.64 833.55 L250.36 833.57 L251.08 833.58 L251.80 833.59 L252.52 833.61 L253.24 833.62 L253.96 833.63 L254.68 833.65 L255.40 833.66 L256.12 833.67 L256.85 833.68 L257.57 833.70 L258.29 833.71 L259.01 833.72 L259.73 833.73 L260.45 833.74 L261.17 833.75 L261.89 833.77 L262.61 833.78 L263.33 833.79 L264.05 833.80 L264.77 833.81 L265.49 833.82 L266.21 833.83 L266.93 833.84 L267.65 833.85 L268.37 833.86 L269.09 833.87 L269.81 833.88 L270.53 833.89 L271.25 833.89 L271.97 833.90 L272.69 833.91 L273.41 833.92 L274.13 833.93 L274.85 833.93 L275.57 833.94 L276.29 833.95 L277.01 833.96 L277.73 833.96 L278.45 833.97 L279.17 833.97 L279.89 833.98 L280.61 833.99 L281.33 833.99 L282.05 834.00 L282.77 834.00 L283.49 834.01 L284.21 834.01 L284.93 834.02 L285.65 834.02 L286.37 834.02 L287.09 834.03 L287.81 834.03 L288.53 834.03 L289.25 834.04 L289.97 834.04 L290.69 834.04 L291.41 834.04 L292.13 834.04 L292.85 834.05 L293.57 834.05 L294.29 834.05 L295.01 834.05 L295.73 834.05 L296.45 834.05 L297.17 834.05 L297.89 834.06 L298.61 834.06 L299.33 834.06 L300.05 834.06 L300.77 834.06 L301.49 834.06 L302.21 834.06 L302.93 834.06 L303.65 834.07 L304.37 834.07 L305.09 834.07 L305.81 834.07 L306.53 834.07 L307.25 834.07 L307.97 834.07 L308.69 834.07 L309.41 834.07 L310.13 834.08 L310.85 834.08 L311.57 834.08 L312.29 834.08 L313.01 834.08 L313.73 834.08 L314.45 834.08 L315.17 834.08 L315.89 834.09 L316.61 834.09 L317.33 834.09 L318.05 834.09 L318.77 834.09 L319.49 834.09 L320.21 834.09 L320.93 834.09 L321.65 834.09 L322.37 834.10 L323.09 834.10 L323.81 834.10 L324.53 834.10 L325.25 834.10 L325.97 834.10 L326.69 834.10 L327.41 834.10 L328.13 834.10 L328.85 834.10 L329.58 834.11 L330.30 834.11 L331.02 834.11 L331.74 834.11 L332.46 834.11 L333.18 834.11 L333.90 834.11 L334.62 834.11 L335.34 834.11 L336.06 834.11 L336.78 834.12 L337.50 834.12 L338.22 834.12 L338.94 834.12 L339.66 834.12 L340.38 834.12 L341.10 834.12 L341.82 834.12 L342.54 834.12 L343.26 834.12 L343.98 834.13 L344.70 834.13 L345.42 834.13 L346.14 834.13 L346.86 834.13 L347.58 834.13 L348.30 834.13 L349.02 834.13 L349.74 834.13 L350.46 834.13 L351.18 834.13 L351.90 834.13 L352.62 834.14 L353.34 834.14 L354.06 834.14 L354.78 834.14 L355.50 834.14 L356.22 834.14 L356.94 834.14 L357.66 834.14 L358.38 834.14 L359.10 834.14 L359.82 834.14 L360.54 834.14 L361.26 834.15 L361.98 834.15 L362.70 834.15 L363.42 834.15 L364.14 834.15 L364.86 834.15 L365.58 834.15 L366.30 834.15 L367.02 834.15 L367.74 834.15 L368.46 834.15 L369.18 834.15 L369.90 834.15 L370.62 834.16 L371.34 834.16 L372.06 834.16 L372.78 834.16 L373.50 834.16 L374.22 834.16 L374.94 834.16 L375.66 834.16 L376.38 834.16 L377.10 834.16 L377.82 834.16 L378.54 834.16 L379.26 834.16 L379.98 834.16 L380.70 834.17 L381.42 834.17 L382.14 834.17 L382.86 834.17 L383.58 834.17 L384.30 834.17 L385.02 834.17 L385.74 834.17 L386.46 834.17 L387.18 834.17 L387.90 834.17 L388.62 834.17 L389.34 834.17 L390.06 834.17 L390.78 834.17 L391.50 834.17 L392.22 834.18 L392.94 834.18 L393.66 834.18 L394.38 834.18 L395.10 834.18 L395.82 834.18 L396.54 834.18 L397.26 834.18 L397.98 834.18 L398.70 834.18 L399.42 834.18 L400.14 834.18 L400.86 834.18 L401.59 834.18 L402.31 834.18 L403.03 834.18 L403.75 834.18 L404.47 834.18 L405.19 834.19 L405.91 834.19 L406.63 834.19 L407.35 834.19 L408.07 834.19 L408.79 834.19 L409.51 834.19 L410.23 834.19 L410.95 834.19 L411.67 834.19 L412.39 834.19 L413.11 834.19 L413.83 834.19 L414.55 834.19 L415.27 834.19 L415.99 834.19 L416.71 834.19 L417.43 834.19 L418.15 834.19 L418.87 834.19 L419.59 834.19 L420.31 834.20 L421.03 834.20 L421.75 834.20 L422.47 834.20 L423.19 834.20 L423.91 834.20 L424.63 834.20 L425.35 834.20 L426.07 834.20 L426.79 834.20 L427.51 834.20 L428.23 834.20 L428.95 834.20 L429.67 834.20 L430.39 834.20 L431.11 834.20 L431.83 834.20 L432.55 834.20 L433.27 834.20 L433.99 834.20 L434.71 834.20 L435.43 834.20 L436.15 834.20 L436.87 834.20 L437.59 834.20 L438.31 834.20 L439.03 834.20 L439.75 834.21 L440.47 834.21 L441.19 834.21 L441.91 834.21 L442.63 834.21 L443.35 834.21 L444.07 834.21 L444.79 834.21 L445.51 834.21 L446.23 834.21 L446.95 834.21 L447.67 834.21 L448.39 834.21 L449.11 834.21 L449.83 834.21 L450.55 834.21 L451.27 834.21 L451.99 834.21 L452.71 834.21 L453.43 834.21 L454.15 834.21 L454.87 834.21 L455.59 834.21 L456.31 834.21 L457.03 834.21 L457.75 834.21 L458.47 834.21 L459.19 834.21 L459.91 834.21 L460.63 834.21 L461.35 834.21 L462.07 834.21 L462.79 834.21 L463.51 834.21 L464.23 834.21 L464.95 834.21 L465.67 834.21 L466.39 834.21 L467.11 834.21 L467.83 834.21 L468.55 834.22 L469.27 834.22 L469.99 834.22 L470.71 834.22 L471.43 834.22 L472.15 834.22 L472.87 834.22 L473.60 834.22 L474.32 834.22 L475.04 834.22 L475.76 834.22 L476.48 834.22 L477.20 834.22 L477.92 834.22 L478.64 834.22 L479.36 834.22 L480.08 834.22 L480.80 834.22 L481.52 834.22 L482.24 834.22 L482.96 834.22 L483.68 834.22 L484.40 834.22 L485.12 834.22 L485.84 834.22 L486.56 834.22 L487.28 834.22 L488.00 834.22 L488.72 834.22 L489.44 834.22 L490.16 834.22 L490.88 834.22 L491.60 834.22 L492.32 834.22 L493.04 834.22 L493.76 834.22 L494.48 834.22 L495.20 834.22 L495.92 834.22 L496.64 834.22 L497.36 834.22 L498.08 834.22 L498.80 834.22 L499.52 834.22 L500.24 834.22 L500.96 834.22 L501.68 834.22 L502.40 834.22 L503.12 834.22 L503.84 834.22 L504.56 834.22 L505.28 834.22 L506.00 834.22 L506.72 834.22 L507.44 834.22 L508.16 834.22 L508.88 834.22 L509.60 834.22" stroke="#dc00e0" stroke-width="2.1" stroke-dasharray="1.9 2.3"/>
</g>
<path d="M84.77 869.00 V865.00 M93.44 869.00 V865.00 M102.11 869.00 V865.00 M110.78 869.00 V865.00 M119.45 869.00 V865.00 M128.12 869.00 V865.00 M136.79 869.00 V865.00 M145.46 869.00 V865.00 M154.13 869.00 V865.00 M162.80 869.00 V863.00 M171.47 869.00 V865.00 M180.14 869.00 V865.00 M188.81 869.00 V865.00 M197.48 869.00 V865.00 M206.15 869.00 V865.00 M214.82 869.00 V865.00 M223.49 869.00 V865.00 M232.16 869.00 V865.00 M240.83 869.00 V865.00 M249.50 869.00 V863.00 M258.17 869.00 V865.00 M266.84 869.00 V865.00 M275.51 869.00 V865.00 M284.18 869.00 V865.00 M292.85 869.00 V865.00 M301.52 869.00 V865.00 M310.19 869.00 V865.00 M318.86 869.00 V865.00 M327.53 869.00 V865.00 M336.20 869.00 V863.00 M344.87 869.00 V865.00 M353.54 869.00 V865.00 M362.21 869.00 V865.00 M370.88 869.00 V865.00 M379.55 869.00 V865.00 M388.22 869.00 V865.00 M396.89 869.00 V865.00 M405.56 869.00 V865.00 M414.23 869.00 V865.00 M422.90 869.00 V863.00 M431.57 869.00 V865.00 M440.24 869.00 V865.00 M448.91 869.00 V865.00 M457.58 869.00 V865.00 M466.25 869.00 V865.00 M474.92 869.00 V865.00 M483.59 869.00 V865.00 M492.26 869.00 V865.00 M500.93 869.00 V865.00 M76.10 862.04 H80.10 M76.10 855.09 H80.10 M76.10 848.13 H80.10 M76.10 841.18 H80.10 M76.10 834.22 H82.10 M76.10 827.26 H80.10 M76.10 820.31 H80.10 M76.10 813.35 H80.10 M76.10 806.40 H80.10 M76.10 799.44 H82.10 M76.10 792.48 H80.10 M76.10 785.53 H80.10 M76.10 778.57 H80.10 M76.10 771.62 H80.10 M76.10 764.66 H80.10 M76.10 757.70 H80.10 M76.10 750.75 H80.10 M76.10 743.79 H80.10 M76.10 736.84 H80.10 M76.10 729.88 H82.10 M76.10 722.92 H80.10 M76.10 715.97 H80.10 M76.10 709.01 H80.10 M76.10 702.06 H80.10 M76.10 695.10 H80.10 M76.10 688.14 H80.10 M76.10 681.19 H80.10 M76.10 674.23 H80.10 M76.10 667.28 H80.10 M76.10 660.32 H82.10 M76.10 653.36 H80.10 M76.10 646.41 H80.10 M76.10 639.45 H80.10 M76.10 632.50 H80.10 M76.10 625.54 H80.10 M76.10 618.58 H80.10 M76.10 611.63 H80.10 M76.10 604.67 H80.10 M76.10 597.72 H80.10 M76.10 590.76 H82.10 M76.10 583.80 H80.10 M76.10 576.85 H80.10 M76.10 569.89 H80.10 M76.10 562.94 H80.10 M76.10 555.98 H80.10 M76.10 549.02 H80.10 M76.10 542.07 H80.10 M76.10 535.11 H80.10 M76.10 528.16 H80.10" stroke="#000" stroke-width="1.5" fill="none"/>
<rect x="76.10" y="521.20" width="433.50" height="347.80" fill="none" stroke="#000" stroke-width="1.9"/>
<text x="69.8" y="528.60" class="tl" text-anchor="end">0.9</text>
<text x="69.8" y="598.16" class="tl" text-anchor="end">0.7</text>
<text x="69.8" y="667.72" class="tl" text-anchor="end">0.5</text>
<text x="69.8" y="737.28" class="tl" text-anchor="end">0.3</text>
<text x="69.8" y="806.84" class="tl" text-anchor="end">0.1</text>
<text x="69.8" y="841.62" class="tl" text-anchor="end">0</text>
<text x="69.8" y="876.40" class="tl" text-anchor="end">-0.1</text>
<text x="76.10" y="894.10" class="tl" text-anchor="middle">0</text>
<text x="162.80" y="894.10" class="tl" text-anchor="middle">10</text>
<text x="249.50" y="894.10" class="tl" text-anchor="middle">20</text>
<text x="336.20" y="894.10" class="tl" text-anchor="middle">30</text>
<text x="422.90" y="894.10" class="tl" text-anchor="middle">40</text>
<text x="509.60" y="894.10" class="tl" text-anchor="middle">50</text>
<text x="280.00" y="926.40" class="ax">&#915;t</text>
<g transform="translate(24.2 722.00) rotate(-90)">
<text x="0" y="0" class="chi" transform="translate(18.60 1.5) scale(-1.13 1)">&#967;</text>
<text x="4.10" y="1.00" class="dot">&#729;</text>
<text x="19.00" y="3.50" class="sl">/</text>
<text x="34.00" y="0" class="ax">&#915;</text>
</g>
<text x="1.6" y="497.40" class="pl">(<tspan font-style="italic">b</tspan>)</text>
<line x1="421.20" y1="534.60" x2="453.50" y2="534.60" stroke="#000" stroke-width="2.1"/>
<text x="457.70" y="538.90" class="lg">Re=1</text>
<line x1="421.20" y1="550.15" x2="453.50" y2="550.15" stroke="#d5101f" stroke-width="2.2" stroke-dasharray="8.2 8.6"/>
<text x="457.70" y="554.45" class="lg">Re=15</text>
<line x1="421.20" y1="565.70" x2="453.50" y2="565.70" stroke="#0800cc" stroke-width="2.1" stroke-dasharray="8 2.4 4.2 2.4"/>
<text x="457.70" y="570.00" class="lg">Re=30</text>
<line x1="421.20" y1="581.25" x2="453.50" y2="581.25" stroke="#dc00e0" stroke-width="2.1" stroke-dasharray="1.9 2.3"/>
<text x="457.70" y="585.55" class="lg">Re=45</text>
<g clip-path="url(#clip2)" fill="none" stroke-linejoin="round">
<line x1="76.10" y1="1311.02" x2="509.60" y2="1311.02" stroke="#000" stroke-width="1.5" stroke-dasharray="4 4.67" stroke-dashoffset="-8.30"/>
<path d="M76.10 1031.39 L76.82 1032.25 L77.54 1034.78 L78.25 1038.90 L78.97 1044.45 L79.69 1051.23 L80.41 1059.03 L81.12 1067.61 L81.84 1076.75 L82.56 1086.24 L83.28 1095.90 L83.99 1105.55 L84.71 1115.06 L85.43 1124.34 L86.15 1133.30 L86.86 1141.88 L87.58 1150.05 L88.30 1157.79 L89.02 1165.08 L89.73 1171.93 L90.45 1178.33 L91.17 1184.32 L91.89 1189.89 L92.60 1195.08 L93.32 1199.89 L94.04 1204.35 L94.76 1208.48 L95.48 1212.30 L96.19 1215.82 L96.91 1219.07 L97.63 1222.07 L98.35 1224.82 L99.06 1227.35 L99.78 1229.66 L100.50 1231.77 L101.22 1233.69 L101.93 1235.44 L102.65 1237.01 L103.37 1238.42 L104.09 1239.68 L104.80 1240.79 L105.52 1241.76 L106.24 1242.60 L106.96 1243.30 L107.67 1243.87 L108.39 1244.32 L109.11 1244.65 L109.83 1244.85 L110.54 1244.94 L111.26 1244.90 L111.98 1244.75 L112.70 1244.47 L113.42 1244.07 L114.13 1243.55 L114.85 1242.90 L115.57 1242.12 L116.29 1241.21 L117.00 1240.16 L117.72 1238.96 L118.44 1237.61 L119.16 1236.11 L119.87 1234.44 L120.59 1232.59 L121.31 1230.56 L122.03 1228.33 L122.74 1225.89 L123.46 1223.24 L124.18 1220.34 L124.90 1217.20 L125.61 1213.79 L126.33 1210.09 L127.05 1206.09 L127.77 1201.77 L128.49 1197.11 L129.20 1192.08 L129.92 1186.67 L130.64 1180.86 L131.36 1174.63 L132.07 1167.96 L132.79 1160.86 L133.51 1153.30 L134.23 1145.31 L134.94 1136.89 L135.66 1128.08 L136.38 1118.93 L137.10 1109.50 L137.81 1099.89 L138.53 1090.22 L139.25 1080.65 L139.97 1071.34 L140.68 1062.49 L141.40 1054.34 L142.12 1047.11 L142.84 1041.03 L143.55 1036.30 L144.27 1033.09 L144.99 1031.54 L145.71 1031.68 L146.43 1033.53 L147.14 1037.01 L147.86 1041.99 L148.58 1048.29 L149.30 1055.70 L150.01 1063.98 L150.73 1072.92 L151.45 1082.29 L152.17 1091.90 L152.88 1101.57 L153.60 1111.15 L154.32 1120.54 L155.04 1129.64 L155.75 1138.38 L156.47 1146.73 L157.19 1154.64 L157.91 1162.12 L158.62 1169.15 L159.34 1175.74 L160.06 1181.89 L160.78 1187.64 L161.49 1192.98 L162.21 1197.94 L162.93 1202.55 L163.65 1206.81 L164.37 1210.75 L165.08 1214.40 L165.80 1217.76 L166.52 1220.86 L167.24 1223.71 L167.95 1226.33 L168.67 1228.73 L169.39 1230.92 L170.11 1232.92 L170.82 1234.74 L171.54 1236.38 L172.26 1237.86 L172.98 1239.18 L173.69 1240.35 L174.41 1241.38 L175.13 1242.27 L175.85 1243.02 L176.56 1243.65 L177.28 1244.15 L178.00 1244.53 L178.72 1244.78 L179.43 1244.91 L180.15 1244.93 L180.87 1244.82 L181.59 1244.60 L182.31 1244.25 L183.02 1243.78 L183.74 1243.19 L184.46 1242.46 L185.18 1241.60 L185.89 1240.61 L186.61 1239.47 L187.33 1238.19 L188.05 1236.75 L188.76 1235.15 L189.48 1233.37 L190.20 1231.42 L190.92 1229.27 L191.63 1226.93 L192.35 1224.36 L193.07 1221.57 L193.79 1218.53 L194.50 1215.23 L195.22 1211.66 L195.94 1207.79 L196.66 1203.60 L197.38 1199.08 L198.09 1194.20 L198.81 1188.95 L199.53 1183.31 L200.25 1177.25 L200.96 1170.77 L201.68 1163.85 L202.40 1156.48 L203.12 1148.67 L203.83 1140.42 L204.55 1131.77 L205.27 1122.75 L205.99 1113.43 L206.70 1103.88 L207.42 1094.22 L208.14 1084.58 L208.86 1075.14 L209.57 1066.08 L210.29 1057.62 L211.01 1049.98 L211.73 1043.39 L212.44 1038.08 L213.16 1034.23 L213.88 1031.97 L214.60 1031.41 L215.32 1032.57 L216.03 1035.39 L216.75 1039.76 L217.47 1045.54 L218.19 1052.52 L218.90 1060.47 L219.62 1069.16 L220.34 1078.38 L221.06 1087.91 L221.77 1097.57 L222.49 1107.21 L223.21 1116.69 L223.93 1125.91 L224.64 1134.81 L225.36 1143.33 L226.08 1151.42 L226.80 1159.08 L227.51 1166.30 L228.23 1173.07 L228.95 1179.40 L229.67 1185.31 L230.38 1190.82 L231.10 1195.93 L231.82 1200.68 L232.54 1205.09 L233.26 1209.16 L233.97 1212.93 L234.69 1216.41 L235.41 1219.61 L236.13 1222.56 L236.84 1225.27 L237.56 1227.76 L238.28 1230.04 L239.00 1232.12 L239.71 1234.01 L240.43 1235.72 L241.15 1237.27 L241.87 1238.65 L242.58 1239.88 L243.30 1240.97 L244.02 1241.92 L244.74 1242.73 L245.45 1243.41 L246.17 1243.96 L246.89 1244.39 L247.61 1244.69 L248.32 1244.87 L249.04 1244.94 L249.76 1244.88" stroke="#000" stroke-width="2.1"/>
<path d="M76.10 1061.67 L76.82 1065.10 L77.54 1069.90 L78.26 1075.93 L78.98 1083.01 L79.70 1090.93 L80.42 1099.47 L81.14 1108.44 L81.86 1117.63 L82.58 1126.88 L83.30 1136.04 L84.02 1144.99 L84.74 1153.65 L85.46 1161.94 L86.18 1169.83 L86.90 1177.28 L87.62 1184.28 L88.34 1190.83 L89.06 1196.94 L89.78 1202.62 L90.50 1207.88 L91.22 1212.76 L91.94 1217.26 L92.66 1221.42 L93.38 1225.25 L94.10 1228.78 L94.82 1232.02 L95.54 1235.01 L96.26 1237.74 L96.98 1240.26 L97.70 1242.56 L98.42 1244.67 L99.14 1246.59 L99.86 1248.35 L100.58 1249.95 L101.30 1251.41 L102.02 1252.73 L102.74 1253.92 L103.46 1254.99 L104.18 1255.95 L104.90 1256.80 L105.62 1257.56 L106.34 1258.22 L107.06 1258.79 L107.78 1259.28 L108.50 1259.68 L109.22 1260.01 L109.94 1260.26 L110.66 1260.44 L111.38 1260.55 L112.10 1260.59 L112.83 1260.56 L113.55 1260.47 L114.27 1260.32 L114.99 1260.11 L115.71 1259.83 L116.43 1259.49 L117.15 1259.09 L117.87 1258.63 L118.59 1258.11 L119.31 1257.52 L120.03 1256.87 L120.75 1256.16 L121.47 1255.39 L122.19 1254.54 L122.91 1253.63 L123.63 1252.65 L124.35 1251.60 L125.07 1250.48 L125.79 1249.27 L126.51 1247.99 L127.23 1246.62 L127.95 1245.17 L128.67 1243.62 L129.39 1241.98 L130.11 1240.23 L130.83 1238.38 L131.55 1236.41 L132.27 1234.33 L132.99 1232.11 L133.71 1229.77 L134.43 1227.27 L135.15 1224.63 L135.87 1221.82 L136.59 1218.84 L137.31 1215.67 L138.03 1212.30 L138.75 1208.73 L139.47 1204.93 L140.19 1200.90 L140.91 1196.61 L141.63 1192.06 L142.35 1187.23 L143.07 1182.11 L143.79 1176.68 L144.51 1170.95 L145.23 1164.89 L145.95 1158.52 L146.67 1151.84 L147.39 1144.85 L148.11 1137.59 L148.83 1130.09 L149.55 1122.40 L150.27 1114.59 L150.99 1106.76 L151.71 1099.00 L152.43 1091.47 L153.15 1084.30 L153.87 1077.69 L154.59 1071.81 L155.31 1066.86 L156.03 1063.02 L156.75 1060.45 L157.47 1059.28 L158.19 1059.58 L158.91 1061.39 L159.63 1064.66 L160.35 1069.29 L161.07 1075.15 L161.79 1082.05 L162.51 1089.79 L163.23 1098.16 L163.95 1106.97 L164.67 1116.01 L165.39 1125.12 L166.11 1134.16 L166.83 1143.02 L167.55 1151.59 L168.27 1159.82 L168.99 1167.66 L169.71 1175.08 L170.43 1182.07 L171.15 1188.62 L171.87 1194.74 L172.59 1200.44 L173.31 1205.74 L174.03 1210.66 L174.75 1215.21 L175.47 1219.42 L176.19 1223.31 L176.91 1226.90 L177.63 1230.21 L178.35 1233.25 L179.07 1236.06 L179.79 1238.64 L180.51 1241.02 L181.23 1243.20 L181.95 1245.19 L182.67 1247.03 L183.39 1248.70 L184.11 1250.23 L184.84 1251.62 L185.56 1252.89 L186.28 1254.03 L187.00 1255.07 L187.72 1256.00 L188.44 1256.83 L189.16 1257.56 L189.88 1258.21 L190.60 1258.77 L191.32 1259.25 L192.04 1259.65 L192.76 1259.97 L193.48 1260.23 L194.20 1260.42 L194.92 1260.53 L195.64 1260.59 L196.36 1260.57 L197.08 1260.50 L197.80 1260.36 L198.52 1260.16 L199.24 1259.90 L199.96 1259.58 L200.68 1259.20 L201.40 1258.76 L202.12 1258.26 L202.84 1257.69 L203.56 1257.06 L204.28 1256.36 L205.00 1255.60 L205.72 1254.77 L206.44 1253.88 L207.16 1252.90 L207.88 1251.86 L208.60 1250.73 L209.32 1249.53 L210.04 1248.24 L210.76 1246.86 L211.48 1245.39 L212.20 1243.82 L212.92 1242.15 L213.64 1240.36 L214.36 1238.46 L215.08 1236.44 L215.80 1234.29 L216.52 1232.00 L217.24 1229.56 L217.96 1226.97 L218.68 1224.20 L219.40 1221.26 L220.12 1218.13 L220.84 1214.79 L221.56 1211.24 L222.28 1207.46 L223.00 1203.43 L223.72 1199.14 L224.44 1194.58 L225.16 1189.74 L225.88 1184.59 L226.60 1179.12 L227.32 1173.34 L228.04 1167.22 L228.76 1160.78 L229.48 1154.01 L230.20 1146.93 L230.92 1139.56 L231.64 1131.93 L232.36 1124.11 L233.08 1116.17 L233.80 1108.18 L234.52 1100.28 L235.24 1092.59 L235.96 1085.27 L236.68 1078.50 L237.40 1072.47 L238.12 1067.37 L238.84 1063.38 L239.56 1060.66 L240.28 1059.33 L241.00 1059.48 L241.72 1061.14 L242.44 1064.26 L243.16 1068.76 L243.88 1074.50 L244.60 1081.30 L245.32 1088.96 L246.04 1097.28 L246.76 1106.05 L247.48 1115.08 L248.20 1124.19 L248.92 1133.24 L249.64 1142.12 L250.36 1150.73 L251.08 1159.00 L251.80 1166.88 L252.52 1174.34 L253.24 1181.37 L253.96 1187.97 L254.68 1194.13 L255.40 1199.88 L256.12 1205.22 L256.85 1210.17 L257.57 1214.76 L258.29 1219.00 L259.01 1222.92 L259.73 1226.54 L260.45 1229.88 L261.17 1232.95 L261.89 1235.78 L262.61 1238.39 L263.33 1240.78 L264.05 1242.98 L264.77 1245.00 L265.49 1246.85 L266.21 1248.54 L266.93 1250.08 L267.65 1251.49 L268.37 1252.76 L269.09 1253.92 L269.81 1254.97 L270.53 1255.91 L271.25 1256.75 L271.97 1257.49 L272.69 1258.14 L273.41 1258.71 L274.13 1259.20 L274.85 1259.61 L275.57 1259.94 L276.29 1260.21 L277.01 1260.40 L277.73 1260.52 L278.45 1260.58 L279.17 1260.58 L279.89 1260.51 L280.61 1260.38 L281.33 1260.19 L282.05 1259.93 L282.77 1259.62 L283.49 1259.24 L284.21 1258.81 L284.93 1258.31 L285.65 1257.75 L286.37 1257.13 L287.09 1256.44 L287.81 1255.68 L288.53 1254.86 L289.25 1253.97 L289.97 1253.01 L290.69 1251.97 L291.41 1250.85 L292.13 1249.66 L292.85 1248.38 L293.57 1247.01 L294.29 1245.54 L295.01 1243.98 L295.73 1242.32 L296.45 1240.55 L297.17 1238.66 L297.89 1236.65 L298.61 1234.52 L299.33 1232.24 L300.05 1229.82 L300.77 1227.24 L301.49 1224.49 L302.21 1221.57 L302.93 1218.46 L303.65 1215.14 L304.37 1211.61 L305.09 1207.86 L305.81 1203.85 L306.53 1199.60 L307.25 1195.06 L307.97 1190.25 L308.69 1185.13 L309.41 1179.70 L310.13 1173.95 L310.85 1167.86 L311.57 1161.45 L312.29 1154.72 L313.01 1147.66 L313.73 1140.32 L314.45 1132.72 L315.17 1124.92 L315.89 1116.98 L316.61 1109.00 L317.33 1101.08 L318.05 1093.36 L318.77 1086.00 L319.49 1079.17 L320.21 1073.05 L320.93 1067.84 L321.65 1063.73 L322.37 1060.87 L323.09 1059.40 L323.81 1059.40 L324.53 1060.90 L325.25 1063.87 L325.97 1068.24 L326.69 1073.86 L327.41 1080.56 L328.13 1088.14 L328.85 1096.41 L329.58 1105.14 L330.30 1114.14 L331.02 1123.26 L331.74 1132.32 L332.46 1141.22 L333.18 1149.86 L333.90 1158.17 L334.62 1166.09 L335.34 1173.60 L336.06 1180.67 L336.78 1187.31 L337.50 1193.52 L338.22 1199.31 L338.94 1204.69 L339.66 1209.68 L340.38 1214.31 L341.10 1218.58 L341.82 1222.54 L342.54 1226.19 L343.26 1229.55 L343.98 1232.65 L344.70 1235.51 L345.42 1238.13 L346.14 1240.55 L346.86 1242.76 L347.58 1244.80 L348.30 1246.66 L349.02 1248.37 L349.74 1249.93 L350.46 1251.35 L351.18 1252.64 L351.90 1253.81 L352.62 1254.86 L353.34 1255.81 L354.06 1256.66 L354.78 1257.42 L355.50 1258.08 L356.22 1258.66 L356.94 1259.15 L357.66 1259.57 L358.38 1259.91 L359.10 1260.18 L359.82 1260.38 L360.54 1260.51 L361.26 1260.58 L361.98 1260.58 L362.70 1260.52 L363.42 1260.40 L364.14 1260.21 L364.86 1259.96 L365.58 1259.65 L366.30 1259.29 L367.02 1258.86 L367.74 1258.36 L368.46 1257.81 L369.18 1257.19 L369.90 1256.51 L370.62 1255.76 L371.34 1254.95 L372.06 1254.06 L372.78 1253.11 L373.50 1252.08 L374.22 1250.97 L374.94 1249.78 L375.66 1248.51 L376.38 1247.15 L377.10 1245.70 L377.82 1244.15 L378.54 1242.50 L379.26 1240.74 L379.98 1238.86 L380.70 1236.87 L381.42 1234.74 L382.14 1232.48 L382.86 1230.07 L383.58 1227.51 L384.30 1224.78 L385.02 1221.88 L385.74 1218.79 L386.46 1215.49 L387.18 1211.99 L387.90 1208.25 L388.62 1204.28 L389.34 1200.04 L390.06 1195.54 L390.78 1190.75 L391.50 1185.67 L392.22 1180.27 L392.94 1174.55 L393.66 1168.50 L394.38 1162.12 L395.10 1155.42 L395.82 1148.40 L396.54 1141.09 L397.26 1133.51 L397.98 1125.73 L398.70 1117.80 L399.42 1109.82 L400.14 1101.89 L400.86 1094.14 L401.59 1086.73 L402.31 1079.84 L403.03 1073.64 L403.75 1068.33 L404.47 1064.10 L405.19 1061.10 L405.91 1059.48 L406.63 1059.33 L407.35 1060.68 L408.07 1063.50 L408.79 1067.73 L409.51 1073.23 L410.23 1079.83 L410.95 1087.33 L411.67 1095.53 L412.39 1104.23 L413.11 1113.21 L413.83 1122.32 L414.55 1131.40 L415.27 1140.32 L415.99 1148.99 L416.71 1157.33 L417.43 1165.30 L418.15 1172.85 L418.87 1179.97 L419.59 1186.65 L420.31 1192.91 L421.03 1198.74 L421.75 1204.16 L422.47 1209.19 L423.19 1213.85 L423.91 1218.16 L424.63 1222.15 L425.35 1225.82 L426.07 1229.22 L426.79 1232.34 L427.51 1235.22 L428.23 1237.87 L428.95 1240.31 L429.67 1242.55 L430.39 1244.60 L431.11 1246.48 L431.83 1248.20 L432.55 1249.77 L433.27 1251.21 L433.99 1252.51 L434.71 1253.69 L435.43 1254.76 L436.15 1255.72 L436.87 1256.58 L437.59 1257.34 L438.31 1258.02 L439.03 1258.60 L439.75 1259.11 L440.47 1259.53 L441.19 1259.88 L441.91 1260.16 L442.63 1260.37 L443.35 1260.50 L444.07 1260.58 L444.79 1260.58 L445.51 1260.53 L446.23 1260.41 L446.95 1260.23 L447.67 1259.99 L448.39 1259.69 L449.11 1259.33 L449.83 1258.90 L450.55 1258.42 L451.27 1257.87 L451.99 1257.26 L452.71 1256.58 L453.43 1255.84 L454.15 1255.04 L454.87 1254.16 L455.59 1253.21 L456.31 1252.19 L457.03 1251.09 L457.75 1249.91 L458.47 1248.64 L459.19 1247.29 L459.91 1245.85 L460.63 1244.31 L461.35 1242.67 L462.07 1240.92 L462.79 1239.06 L463.51 1237.08 L464.23 1234.97 L464.95 1232.72 L465.67 1230.33 L466.39 1227.78 L467.11 1225.07 L467.83 1222.18 L468.55 1219.11 L469.27 1215.84 L469.99 1212.35 L470.71 1208.64 L471.43 1204.69 L472.15 1200.49 L472.87 1196.01 L473.60 1191.26 L474.32 1186.20 L475.04 1180.84 L475.76 1175.15 L476.48 1169.14 L477.20 1162.79 L477.92 1156.12 L478.64 1149.13 L479.36 1141.85 L480.08 1134.30 L480.80 1126.53 L481.52 1118.62 L482.24 1110.63 L482.96 1102.69 L483.68 1094.92 L484.40 1087.47 L485.12 1080.51 L485.84 1074.23 L486.56 1068.83 L487.28 1064.47 L488.00 1061.35 L488.72 1059.58 L489.44 1059.28 L490.16 1060.47 L490.88 1063.15 L491.60 1067.24 L492.32 1072.61 L493.04 1079.11 L493.76 1086.53 L494.48 1094.67 L495.20 1103.32 L495.92 1112.29 L496.64 1121.39 L497.36 1130.48 L498.08 1139.42 L498.80 1148.12 L499.52 1156.49 L500.24 1164.50 L500.96 1172.09 L501.68 1179.26 L502.40 1185.99 L503.12 1192.29 L503.84 1198.16 L504.56 1203.62 L505.28 1208.69 L506.00 1213.39 L506.72 1217.74 L507.44 1221.75 L508.16 1225.46 L508.88 1228.88 L509.60 1232.04" stroke="#d5101f" stroke-width="2.2" stroke-dasharray="8.2 8.6"/>
<path d="M76.10 1075.21 L76.82 1075.77 L77.54 1077.45 L78.26 1080.25 L78.98 1084.14 L79.70 1089.04 L80.42 1094.84 L81.14 1101.42 L81.86 1108.65 L82.58 1116.36 L83.30 1124.43 L84.02 1132.69 L84.74 1141.04 L85.46 1149.34 L86.18 1157.51 L86.90 1165.47 L87.62 1173.15 L88.34 1180.52 L89.06 1187.53 L89.78 1194.17 L90.50 1200.44 L91.22 1206.32 L91.94 1211.82 L92.66 1216.95 L93.38 1221.73 L94.10 1226.17 L94.82 1230.28 L95.54 1234.09 L96.26 1237.61 L96.98 1240.85 L97.70 1243.84 L98.42 1246.58 L99.14 1249.11 L99.86 1251.42 L100.58 1253.54 L101.30 1255.47 L102.02 1257.24 L102.74 1258.84 L103.46 1260.29 L104.18 1261.60 L104.90 1262.78 L105.62 1263.84 L106.34 1264.77 L107.06 1265.60 L107.78 1266.32 L108.50 1266.94 L109.22 1267.47 L109.94 1267.91 L110.66 1268.26 L111.38 1268.52 L112.10 1268.71 L112.83 1268.83 L113.55 1268.87 L114.27 1268.84 L114.99 1268.74 L115.71 1268.57 L116.43 1268.34 L117.15 1268.04 L117.87 1267.68 L118.59 1267.26 L119.31 1266.78 L120.03 1266.25 L120.75 1265.65 L121.47 1265.00 L122.19 1264.29 L122.91 1263.52 L123.63 1262.69 L124.35 1261.81 L125.07 1260.88 L125.79 1259.89 L126.51 1258.84 L127.23 1257.73 L127.95 1256.57 L128.67 1255.35 L129.39 1254.08 L130.11 1252.74 L130.83 1251.35 L131.55 1249.89 L132.27 1248.37 L132.99 1246.79 L133.71 1245.14 L134.43 1243.43 L135.15 1241.64 L135.87 1239.78 L136.59 1237.85 L137.31 1235.84 L138.03 1233.75 L138.75 1231.57 L139.47 1229.31 L140.19 1226.95 L140.91 1224.49 L141.63 1221.93 L142.35 1219.26 L143.07 1216.47 L143.79 1213.56 L144.51 1210.53 L145.23 1207.36 L145.95 1204.04 L146.67 1200.58 L147.39 1196.96 L148.11 1193.17 L148.83 1189.22 L149.55 1185.08 L150.27 1180.75 L150.99 1176.24 L151.71 1171.52 L152.43 1166.61 L153.15 1161.51 L153.87 1156.20 L154.59 1150.72 L155.31 1145.06 L156.03 1139.24 L156.75 1133.30 L157.47 1127.27 L158.19 1121.18 L158.91 1115.11 L159.63 1109.12 L160.35 1103.29 L161.07 1097.71 L161.79 1092.49 L162.51 1087.74 L163.23 1083.58 L163.95 1080.14 L164.67 1077.53 L165.39 1075.86 L166.11 1075.22 L166.83 1075.66 L167.55 1077.23 L168.27 1079.89 L168.99 1083.61 L169.71 1088.31 L170.43 1093.89 L171.15 1100.22 L171.87 1107.17 L172.59 1114.60 L173.31 1122.37 L174.03 1130.34 L174.75 1138.40 L175.47 1146.44 L176.19 1154.37 L176.91 1162.11 L177.63 1169.61 L178.35 1176.82 L179.07 1183.71 L179.79 1190.26 L180.51 1196.46 L181.23 1202.30 L181.95 1207.79 L182.67 1212.94 L183.39 1217.75 L184.11 1222.23 L184.84 1226.41 L185.56 1230.29 L186.28 1233.90 L187.00 1237.24 L187.72 1240.34 L188.44 1243.20 L189.16 1245.84 L189.88 1248.28 L190.60 1250.53 L191.32 1252.60 L192.04 1254.50 L192.76 1256.25 L193.48 1257.85 L194.20 1259.30 L194.92 1260.63 L195.64 1261.84 L196.36 1262.92 L197.08 1263.90 L197.80 1264.78 L198.52 1265.56 L199.24 1266.25 L199.96 1266.84 L200.68 1267.36 L201.40 1267.79 L202.12 1268.15 L202.84 1268.43 L203.56 1268.64 L204.28 1268.78 L205.00 1268.85 L205.72 1268.86 L206.44 1268.81 L207.16 1268.70 L207.88 1268.52 L208.60 1268.29 L209.32 1268.00 L210.04 1267.65 L210.76 1267.24 L211.48 1266.78 L212.20 1266.26 L212.92 1265.69 L213.64 1265.06 L214.36 1264.38 L215.08 1263.63 L215.80 1262.84 L216.52 1261.98 L217.24 1261.07 L217.96 1260.10 L218.68 1259.07 L219.40 1257.98 L220.12 1256.83 L220.84 1255.61 L221.56 1254.33 L222.28 1252.98 L223.00 1251.56 L223.72 1250.07 L224.44 1248.51 L225.16 1246.86 L225.88 1245.14 L226.60 1243.33 L227.32 1241.43 L228.04 1239.45 L228.76 1237.36 L229.48 1235.18 L230.20 1232.88 L230.92 1230.48 L231.64 1227.96 L232.36 1225.31 L233.08 1222.54 L233.80 1219.62 L234.52 1216.56 L235.24 1213.35 L235.96 1209.98 L236.68 1206.44 L237.40 1202.72 L238.12 1198.82 L238.84 1194.73 L239.56 1190.43 L240.28 1185.93 L241.00 1181.22 L241.72 1176.29 L242.44 1171.15 L243.16 1165.79 L243.88 1160.22 L244.60 1154.45 L245.32 1148.49 L246.04 1142.38 L246.76 1136.12 L247.48 1129.78 L248.20 1123.39 L248.92 1117.02 L249.64 1110.74 L250.36 1104.63 L251.08 1098.80 L251.80 1093.36 L252.52 1088.41 L253.24 1084.08 L253.96 1080.49 L254.68 1077.76 L255.40 1075.98 L256.12 1075.23 L256.85 1075.57 L257.57 1077.03 L258.29 1079.59 L259.01 1083.21 L259.73 1087.82 L260.45 1093.32 L261.17 1099.58 L261.89 1106.48 L262.61 1113.87 L263.33 1121.61 L264.05 1129.57 L264.77 1137.63 L265.49 1145.67 L266.21 1153.62 L266.93 1161.38 L267.65 1168.90 L268.37 1176.14 L269.09 1183.06 L269.81 1189.65 L270.53 1195.88 L271.25 1201.76 L271.97 1207.28 L272.69 1212.46 L273.41 1217.30 L274.13 1221.82 L274.85 1226.02 L275.57 1229.93 L276.29 1233.57 L277.01 1236.93 L277.73 1240.05 L278.45 1242.93 L279.17 1245.60 L279.89 1248.06 L280.61 1250.33 L281.33 1252.41 L282.05 1254.33 L282.77 1256.09 L283.49 1257.70 L284.21 1259.17 L284.93 1260.51 L285.65 1261.73 L286.37 1262.82 L287.09 1263.82 L287.81 1264.70 L288.53 1265.49 L289.25 1266.18 L289.97 1266.79 L290.69 1267.31 L291.41 1267.75 L292.13 1268.11 L292.85 1268.40 L293.57 1268.62 L294.29 1268.77 L295.01 1268.85 L295.73 1268.86 L296.45 1268.82 L297.17 1268.71 L297.89 1268.54 L298.61 1268.31 L299.33 1268.03 L300.05 1267.68 L300.77 1267.28 L301.49 1266.83 L302.21 1266.31 L302.93 1265.75 L303.65 1265.12 L304.37 1264.44 L305.09 1263.71 L305.81 1262.92 L306.53 1262.07 L307.25 1261.16 L307.97 1260.20 L308.69 1259.17 L309.41 1258.09 L310.13 1256.94 L310.85 1255.73 L311.57 1254.46 L312.29 1253.11 L313.01 1251.70 L313.73 1250.22 L314.45 1248.66 L315.17 1247.02 L315.89 1245.31 L316.61 1243.51 L317.33 1241.62 L318.05 1239.64 L318.77 1237.57 L319.49 1235.39 L320.21 1233.11 L320.93 1230.72 L321.65 1228.21 L322.37 1225.57 L323.09 1222.81 L323.81 1219.91 L324.53 1216.86 L325.25 1213.67 L325.97 1210.31 L326.69 1206.79 L327.41 1203.09 L328.13 1199.20 L328.85 1195.13 L329.58 1190.85 L330.30 1186.37 L331.02 1181.68 L331.74 1176.77 L332.46 1171.65 L333.18 1166.31 L333.90 1160.76 L334.62 1155.01 L335.34 1149.07 L336.06 1142.97 L336.78 1136.73 L337.50 1130.39 L338.22 1124.00 L338.94 1117.62 L339.66 1111.33 L340.38 1105.21 L341.10 1099.35 L341.82 1093.86 L342.54 1088.86 L343.26 1084.47 L343.98 1080.80 L344.70 1077.98 L345.42 1076.11 L346.14 1075.26 L346.86 1075.49 L347.58 1076.84 L348.30 1079.30 L349.02 1082.82 L349.74 1087.34 L350.46 1092.76 L351.18 1098.95 L351.90 1105.80 L352.62 1113.15 L353.34 1120.86 L354.06 1128.80 L354.78 1136.86 L355.50 1144.91 L356.22 1152.86 L356.94 1160.65 L357.66 1168.20 L358.38 1175.46 L359.10 1182.42 L359.82 1189.03 L360.54 1195.30 L361.26 1201.21 L361.98 1206.77 L362.70 1211.98 L363.42 1216.85 L364.14 1221.40 L364.86 1225.63 L365.58 1229.57 L366.30 1233.23 L367.02 1236.62 L367.74 1239.76 L368.46 1242.67 L369.18 1245.35 L369.90 1247.83 L370.62 1250.12 L371.34 1252.22 L372.06 1254.15 L372.78 1255.93 L373.50 1257.55 L374.22 1259.03 L374.94 1260.39 L375.66 1261.61 L376.38 1262.72 L377.10 1263.72 L377.82 1264.62 L378.54 1265.42 L379.26 1266.12 L379.98 1266.74 L380.70 1267.26 L381.42 1267.71 L382.14 1268.08 L382.86 1268.38 L383.58 1268.60 L384.30 1268.76 L385.02 1268.84 L385.74 1268.87 L386.46 1268.82 L387.18 1268.72 L387.90 1268.56 L388.62 1268.34 L389.34 1268.06 L390.06 1267.72 L390.78 1267.32 L391.50 1266.87 L392.22 1266.37 L392.94 1265.80 L393.66 1265.18 L394.38 1264.51 L395.10 1263.78 L395.82 1262.99 L396.54 1262.15 L397.26 1261.25 L397.98 1260.29 L398.70 1259.27 L399.42 1258.19 L400.14 1257.05 L400.86 1255.85 L401.59 1254.58 L402.31 1253.24 L403.03 1251.84 L403.75 1250.36 L404.47 1248.81 L405.19 1247.18 L405.91 1245.47 L406.63 1243.68 L407.35 1241.80 L408.07 1239.83 L408.79 1237.77 L409.51 1235.60 L410.23 1233.33 L410.95 1230.95 L411.67 1228.45 L412.39 1225.83 L413.11 1223.08 L413.83 1220.19 L414.55 1217.16 L415.27 1213.98 L415.99 1210.64 L416.71 1207.13 L417.43 1203.45 L418.15 1199.58 L418.87 1195.52 L419.59 1191.27 L420.31 1186.81 L421.03 1182.14 L421.75 1177.25 L422.47 1172.15 L423.19 1166.83 L423.91 1161.30 L424.63 1155.57 L425.35 1149.65 L426.07 1143.56 L426.79 1137.33 L427.51 1131.00 L428.23 1124.61 L428.95 1118.23 L429.67 1111.93 L430.39 1105.78 L431.11 1099.89 L431.83 1094.36 L432.55 1089.31 L433.27 1084.86 L433.99 1081.12 L434.71 1078.21 L435.43 1076.24 L436.15 1075.29 L436.87 1075.42 L437.59 1076.66 L438.31 1079.01 L439.03 1082.44 L439.75 1086.87 L440.47 1092.20 L441.19 1098.33 L441.91 1105.12 L442.63 1112.43 L443.35 1120.11 L444.07 1128.04 L444.79 1136.09 L445.51 1144.14 L446.23 1152.11 L446.95 1159.91 L447.67 1167.49 L448.39 1174.78 L449.11 1181.77 L449.83 1188.42 L450.55 1194.72 L451.27 1200.66 L451.99 1206.25 L452.71 1211.50 L453.43 1216.40 L454.15 1220.98 L454.87 1225.24 L455.59 1229.21 L456.31 1232.89 L457.03 1236.31 L457.75 1239.47 L458.47 1242.40 L459.19 1245.11 L459.91 1247.60 L460.63 1249.91 L461.35 1252.03 L462.07 1253.98 L462.79 1255.76 L463.51 1257.40 L464.23 1258.90 L464.95 1260.26 L465.67 1261.50 L466.39 1262.62 L467.11 1263.63 L467.83 1264.54 L468.55 1265.35 L469.27 1266.06 L469.99 1266.68 L470.71 1267.22 L471.43 1267.67 L472.15 1268.05 L472.87 1268.35 L473.60 1268.58 L474.32 1268.74 L475.04 1268.84 L475.76 1268.87 L476.48 1268.83 L477.20 1268.73 L477.92 1268.58 L478.64 1268.36 L479.36 1268.08 L480.08 1267.75 L480.80 1267.36 L481.52 1266.92 L482.24 1266.42 L482.96 1265.86 L483.68 1265.25 L484.40 1264.58 L485.12 1263.85 L485.84 1263.07 L486.56 1262.23 L487.28 1261.34 L488.00 1260.39 L488.72 1259.37 L489.44 1258.30 L490.16 1257.17 L490.88 1255.97 L491.60 1254.70 L492.32 1253.38 L493.04 1251.98 L493.76 1250.51 L494.48 1248.96 L495.20 1247.34 L495.92 1245.64 L496.64 1243.86 L497.36 1241.99 L498.08 1240.03 L498.80 1237.97 L499.52 1235.81 L500.24 1233.55 L500.96 1231.18 L501.68 1228.69 L502.40 1226.09 L503.12 1223.35 L503.84 1220.47 L504.56 1217.46 L505.28 1214.29 L506.00 1210.96 L506.72 1207.47 L507.44 1203.81 L508.16 1199.96 L508.88 1195.92 L509.60 1191.68" stroke="#0800cc" stroke-width="2.1" stroke-dasharray="8 2.4 4.2 2.4"/>
<path d="M76.10 1088.43 L76.82 1088.88 L77.54 1090.27 L78.26 1092.59 L78.98 1095.82 L79.70 1099.91 L80.42 1104.81 L81.14 1110.41 L81.86 1116.61 L82.58 1123.30 L83.30 1130.37 L84.02 1137.69 L84.74 1145.15 L85.46 1152.66 L86.18 1160.13 L86.90 1167.47 L87.62 1174.63 L88.34 1181.56 L89.06 1188.22 L89.78 1194.57 L90.50 1200.61 L91.22 1206.33 L91.94 1211.71 L92.66 1216.77 L93.38 1221.50 L94.10 1225.92 L94.82 1230.04 L95.54 1233.87 L96.26 1237.42 L96.98 1240.71 L97.70 1243.75 L98.42 1246.56 L99.14 1249.15 L99.86 1251.53 L100.58 1253.72 L101.30 1255.72 L102.02 1257.55 L102.74 1259.22 L103.46 1260.74 L104.18 1262.11 L104.90 1263.35 L105.62 1264.47 L106.34 1265.46 L107.06 1266.34 L107.78 1267.11 L108.50 1267.78 L109.22 1268.35 L109.94 1268.83 L110.66 1269.22 L111.38 1269.53 L112.10 1269.75 L112.83 1269.90 L113.55 1269.97 L114.27 1269.97 L114.99 1269.90 L115.71 1269.76 L116.43 1269.55 L117.15 1269.28 L117.87 1268.95 L118.59 1268.55 L119.31 1268.09 L120.03 1267.58 L120.75 1267.01 L121.47 1266.38 L122.19 1265.69 L122.91 1264.95 L123.63 1264.16 L124.35 1263.31 L125.07 1262.40 L125.79 1261.45 L126.51 1260.44 L127.23 1259.38 L127.95 1258.27 L128.67 1257.10 L129.39 1255.89 L130.11 1254.62 L130.83 1253.30 L131.55 1251.93 L132.27 1250.50 L132.99 1249.03 L133.71 1247.49 L134.43 1245.91 L135.15 1244.26 L135.87 1242.57 L136.59 1240.81 L137.31 1238.99 L138.03 1237.11 L138.75 1235.17 L139.47 1233.16 L140.19 1231.08 L140.91 1228.93 L141.63 1226.70 L142.35 1224.40 L143.07 1222.01 L143.79 1219.54 L144.51 1216.98 L145.23 1214.32 L145.95 1211.56 L146.67 1208.70 L147.39 1205.72 L148.11 1202.63 L148.83 1199.42 L149.55 1196.08 L150.27 1192.60 L150.99 1188.99 L151.71 1185.24 L152.43 1181.34 L153.15 1177.29 L153.87 1173.08 L154.59 1168.73 L155.31 1164.22 L156.03 1159.56 L156.75 1154.77 L157.47 1149.85 L158.19 1144.82 L158.91 1139.70 L159.63 1134.52 L160.35 1129.31 L161.07 1124.12 L161.79 1119.00 L162.51 1114.02 L163.23 1109.23 L163.95 1104.72 L164.67 1100.58 L165.39 1096.90 L166.11 1093.77 L166.83 1091.28 L167.55 1089.53 L168.27 1088.58 L168.99 1088.51 L169.71 1089.34 L170.43 1091.09 L171.15 1093.74 L171.87 1097.27 L172.59 1101.59 L173.31 1106.64 L174.03 1112.33 L174.75 1118.53 L175.47 1125.15 L176.19 1132.08 L176.91 1139.20 L177.63 1146.42 L178.35 1153.66 L179.07 1160.83 L179.79 1167.87 L180.51 1174.72 L181.23 1181.35 L181.95 1187.72 L182.67 1193.81 L183.39 1199.61 L184.11 1205.10 L184.84 1210.29 L185.56 1215.18 L186.28 1219.77 L187.00 1224.07 L187.72 1228.09 L188.44 1231.84 L189.16 1235.34 L189.88 1238.60 L190.60 1241.62 L191.32 1244.43 L192.04 1247.03 L192.76 1249.43 L193.48 1251.65 L194.20 1253.70 L194.92 1255.59 L195.64 1257.32 L196.36 1258.91 L197.08 1260.37 L197.80 1261.69 L198.52 1262.90 L199.24 1263.99 L199.96 1264.97 L200.68 1265.85 L201.40 1266.63 L202.12 1267.32 L202.84 1267.93 L203.56 1268.44 L204.28 1268.88 L205.00 1269.24 L205.72 1269.53 L206.44 1269.74 L207.16 1269.89 L207.88 1269.96 L208.60 1269.98 L209.32 1269.93 L210.04 1269.82 L210.76 1269.65 L211.48 1269.42 L212.20 1269.13 L212.92 1268.79 L213.64 1268.39 L214.36 1267.94 L215.08 1267.43 L215.80 1266.87 L216.52 1266.26 L217.24 1265.59 L217.96 1264.87 L218.68 1264.10 L219.40 1263.27 L220.12 1262.39 L220.84 1261.46 L221.56 1260.47 L222.28 1259.42 L223.00 1258.33 L223.72 1257.17 L224.44 1255.96 L225.16 1254.69 L225.88 1253.36 L226.60 1251.97 L227.32 1250.51 L228.04 1248.99 L228.76 1247.40 L229.48 1245.75 L230.20 1244.02 L230.92 1242.22 L231.64 1240.34 L232.36 1238.38 L233.08 1236.34 L233.80 1234.21 L234.52 1231.99 L235.24 1229.68 L235.96 1227.26 L236.68 1224.74 L237.40 1222.11 L238.12 1219.37 L238.84 1216.50 L239.56 1213.51 L240.28 1210.39 L241.00 1207.13 L241.72 1203.73 L242.44 1200.18 L243.16 1196.47 L243.88 1192.61 L244.60 1188.58 L245.32 1184.38 L246.04 1180.02 L246.76 1175.49 L247.48 1170.79 L248.20 1165.93 L248.92 1160.91 L249.64 1155.76 L250.36 1150.47 L251.08 1145.08 L251.80 1139.62 L252.52 1134.12 L253.24 1128.62 L253.96 1123.18 L254.68 1117.85 L255.40 1112.71 L256.12 1107.83 L256.85 1103.30 L257.57 1099.21 L258.29 1095.65 L259.01 1092.71 L259.73 1090.48 L260.45 1089.04 L261.17 1088.44 L261.89 1088.74 L262.61 1089.95 L263.33 1092.08 L264.05 1095.10 L264.77 1098.96 L265.49 1103.60 L266.21 1108.92 L266.93 1114.83 L267.65 1121.22 L268.37 1127.98 L269.09 1135.00 L269.81 1142.17 L270.53 1149.41 L271.25 1156.63 L271.97 1163.75 L272.69 1170.72 L273.41 1177.49 L274.13 1184.01 L274.85 1190.27 L275.57 1196.24 L276.29 1201.91 L277.01 1207.28 L277.73 1212.35 L278.45 1217.11 L279.17 1221.58 L279.89 1225.76 L280.61 1229.67 L281.33 1233.32 L282.05 1236.71 L282.77 1239.87 L283.49 1242.80 L284.21 1245.52 L284.93 1248.04 L285.65 1250.37 L286.37 1252.52 L287.09 1254.50 L287.81 1256.32 L288.53 1257.99 L289.25 1259.53 L289.97 1260.93 L290.69 1262.20 L291.41 1263.36 L292.13 1264.41 L292.85 1265.35 L293.57 1266.19 L294.29 1266.93 L295.01 1267.58 L295.73 1268.15 L296.45 1268.63 L297.17 1269.04 L297.89 1269.37 L298.61 1269.62 L299.33 1269.81 L300.05 1269.93 L300.77 1269.98 L301.49 1269.96 L302.21 1269.89 L302.93 1269.75 L303.65 1269.56 L304.37 1269.31 L305.09 1269.00 L305.81 1268.63 L306.53 1268.21 L307.25 1267.74 L307.97 1267.21 L308.69 1266.62 L309.41 1265.99 L310.13 1265.30 L310.85 1264.56 L311.57 1263.76 L312.29 1262.91 L313.01 1262.01 L313.73 1261.05 L314.45 1260.04 L315.17 1258.98 L315.89 1257.86 L316.61 1256.68 L317.33 1255.44 L318.05 1254.15 L318.77 1252.79 L319.49 1251.37 L320.21 1249.89 L320.93 1248.34 L321.65 1246.73 L322.37 1245.04 L323.09 1243.29 L323.81 1241.45 L324.53 1239.54 L325.25 1237.55 L325.97 1235.47 L326.69 1233.31 L327.41 1231.05 L328.13 1228.69 L328.85 1226.23 L329.58 1223.67 L330.30 1220.99 L331.02 1218.20 L331.74 1215.28 L332.46 1212.24 L333.18 1209.06 L333.90 1205.74 L334.62 1202.28 L335.34 1198.67 L336.06 1194.89 L336.78 1190.96 L337.50 1186.87 L338.22 1182.60 L338.94 1178.17 L339.66 1173.57 L340.38 1168.80 L341.10 1163.88 L341.82 1158.80 L342.54 1153.59 L343.26 1148.26 L343.98 1142.84 L344.70 1137.35 L345.42 1131.84 L346.14 1126.36 L346.86 1120.96 L347.58 1115.70 L348.30 1110.66 L349.02 1105.91 L349.74 1101.55 L350.46 1097.67 L351.18 1094.36 L351.90 1091.70 L352.62 1089.79 L353.34 1088.69 L354.06 1088.45 L354.78 1089.13 L355.50 1090.72 L356.22 1093.22 L356.94 1096.59 L357.66 1100.78 L358.38 1105.72 L359.10 1111.29 L359.82 1117.42 L360.54 1123.97 L361.26 1130.85 L361.98 1137.95 L362.70 1145.16 L363.42 1152.40 L364.14 1159.59 L364.86 1166.65 L365.58 1173.54 L366.30 1180.21 L367.02 1186.63 L367.74 1192.77 L368.46 1198.62 L369.18 1204.17 L369.90 1209.41 L370.62 1214.35 L371.34 1218.99 L372.06 1223.34 L372.78 1227.41 L373.50 1231.21 L374.22 1234.75 L374.94 1238.05 L375.66 1241.11 L376.38 1243.95 L377.10 1246.59 L377.82 1249.02 L378.54 1251.28 L379.26 1253.36 L379.98 1255.27 L380.70 1257.03 L381.42 1258.64 L382.14 1260.12 L382.86 1261.47 L383.58 1262.69 L384.30 1263.81 L385.02 1264.81 L385.74 1265.70 L386.46 1266.50 L387.18 1267.21 L387.90 1267.83 L388.62 1268.36 L389.34 1268.81 L390.06 1269.18 L390.78 1269.48 L391.50 1269.71 L392.22 1269.86 L392.94 1269.95 L393.66 1269.98 L394.38 1269.94 L395.10 1269.84 L395.82 1269.68 L396.54 1269.46 L397.26 1269.19 L397.98 1268.85 L398.70 1268.46 L399.42 1268.02 L400.14 1267.52 L400.86 1266.97 L401.59 1266.37 L402.31 1265.71 L403.03 1265.00 L403.75 1264.23 L404.47 1263.42 L405.19 1262.55 L405.91 1261.62 L406.63 1260.64 L407.35 1259.61 L408.07 1258.52 L408.79 1257.38 L409.51 1256.17 L410.23 1254.91 L410.95 1253.59 L411.67 1252.21 L412.39 1250.77 L413.11 1249.26 L413.83 1247.69 L414.55 1246.04 L415.27 1244.33 L415.99 1242.54 L416.71 1240.68 L417.43 1238.73 L418.15 1236.70 L418.87 1234.59 L419.59 1232.39 L420.31 1230.09 L421.03 1227.69 L421.75 1225.19 L422.47 1222.58 L423.19 1219.85 L423.91 1217.01 L424.63 1214.04 L425.35 1210.94 L426.07 1207.71 L426.79 1204.33 L427.51 1200.81 L428.23 1197.13 L428.95 1193.29 L429.67 1189.29 L430.39 1185.13 L431.11 1180.79 L431.83 1176.29 L432.55 1171.62 L433.27 1166.79 L433.99 1161.80 L434.71 1156.66 L435.43 1151.40 L436.15 1146.03 L436.87 1140.58 L437.59 1135.08 L438.31 1129.58 L439.03 1124.12 L439.75 1118.77 L440.47 1113.59 L441.19 1108.66 L441.91 1104.06 L442.63 1099.89 L443.35 1096.23 L444.07 1093.18 L444.79 1090.82 L445.51 1089.23 L446.23 1088.48 L446.95 1088.62 L447.67 1089.67 L448.39 1091.64 L449.11 1094.51 L449.83 1098.23 L450.55 1102.74 L451.27 1107.95 L451.99 1113.76 L452.71 1120.08 L453.43 1126.78 L454.15 1133.76 L454.87 1140.92 L455.59 1148.15 L456.31 1155.38 L457.03 1162.52 L457.75 1169.52 L458.47 1176.32 L459.19 1182.89 L459.91 1189.20 L460.63 1195.22 L461.35 1200.95 L462.07 1206.37 L462.79 1211.49 L463.51 1216.30 L464.23 1220.82 L464.95 1225.05 L465.67 1229.01 L466.39 1232.70 L467.11 1236.14 L467.83 1239.34 L468.55 1242.31 L469.27 1245.06 L469.99 1247.62 L470.71 1249.98 L471.43 1252.16 L472.15 1254.16 L472.87 1256.01 L473.60 1257.71 L474.32 1259.27 L475.04 1260.69 L475.76 1261.99 L476.48 1263.17 L477.20 1264.23 L477.92 1265.19 L478.64 1266.05 L479.36 1266.81 L480.08 1267.48 L480.80 1268.06 L481.52 1268.55 L482.24 1268.97 L482.96 1269.32 L483.68 1269.58 L484.40 1269.78 L485.12 1269.91 L485.84 1269.97 L486.56 1269.97 L487.28 1269.91 L488.00 1269.78 L488.72 1269.60 L489.44 1269.36 L490.16 1269.06 L490.88 1268.70 L491.60 1268.29 L492.32 1267.82 L493.04 1267.30 L493.76 1266.73 L494.48 1266.10 L495.20 1265.42 L495.92 1264.69 L496.64 1263.90 L497.36 1263.06 L498.08 1262.17 L498.80 1261.22 L499.52 1260.22 L500.24 1259.17 L500.96 1258.06 L501.68 1256.89 L502.40 1255.66 L503.12 1254.38 L503.84 1253.03 L504.56 1251.62 L505.28 1250.15 L506.00 1248.62 L506.72 1247.02 L507.44 1245.34 L508.16 1243.60 L508.88 1241.78 L509.60 1239.88" stroke="#dc00e0" stroke-width="2.1" stroke-dasharray="1.9 2.3"/>
</g>
<path d="M84.77 1345.80 V1341.80 M93.44 1345.80 V1341.80 M102.11 1345.80 V1341.80 M110.78 1345.80 V1341.80 M119.45 1345.80 V1341.80 M128.12 1345.80 V1341.80 M136.79 1345.80 V1341.80 M145.46 1345.80 V1341.80 M154.13 1345.80 V1341.80 M162.80 1345.80 V1339.80 M171.47 1345.80 V1341.80 M180.14 1345.80 V1341.80 M188.81 1345.80 V1341.80 M197.48 1345.80 V1341.80 M206.15 1345.80 V1341.80 M214.82 1345.80 V1341.80 M223.49 1345.80 V1341.80 M232.16 1345.80 V1341.80 M240.83 1345.80 V1341.80 M249.50 1345.80 V1339.80 M258.17 1345.80 V1341.80 M266.84 1345.80 V1341.80 M275.51 1345.80 V1341.80 M284.18 1345.80 V1341.80 M292.85 1345.80 V1341.80 M301.52 1345.80 V1341.80 M310.19 1345.80 V1341.80 M318.86 1345.80 V1341.80 M327.53 1345.80 V1341.80 M336.20 1345.80 V1339.80 M344.87 1345.80 V1341.80 M353.54 1345.80 V1341.80 M362.21 1345.80 V1341.80 M370.88 1345.80 V1341.80 M379.55 1345.80 V1341.80 M388.22 1345.80 V1341.80 M396.89 1345.80 V1341.80 M405.56 1345.80 V1341.80 M414.23 1345.80 V1341.80 M422.90 1345.80 V1339.80 M431.57 1345.80 V1341.80 M440.24 1345.80 V1341.80 M448.91 1345.80 V1341.80 M457.58 1345.80 V1341.80 M466.25 1345.80 V1341.80 M474.92 1345.80 V1341.80 M483.59 1345.80 V1341.80 M492.26 1345.80 V1341.80 M500.93 1345.80 V1341.80 M76.10 1338.84 H80.10 M76.10 1331.89 H80.10 M76.10 1324.93 H80.10 M76.10 1317.98 H80.10 M76.10 1311.02 H82.10 M76.10 1304.06 H80.10 M76.10 1297.11 H80.10 M76.10 1290.15 H80.10 M76.10 1283.20 H80.10 M76.10 1276.24 H82.10 M76.10 1269.28 H80.10 M76.10 1262.33 H80.10 M76.10 1255.37 H80.10 M76.10 1248.42 H80.10 M76.10 1241.46 H80.10 M76.10 1234.50 H80.10 M76.10 1227.55 H80.10 M76.10 1220.59 H80.10 M76.10 1213.64 H80.10 M76.10 1206.68 H82.10 M76.10 1199.72 H80.10 M76.10 1192.77 H80.10 M76.10 1185.81 H80.10 M76.10 1178.86 H80.10 M76.10 1171.90 H80.10 M76.10 1164.94 H80.10 M76.10 1157.99 H80.10 M76.10 1151.03 H80.10 M76.10 1144.08 H80.10 M76.10 1137.12 H82.10 M76.10 1130.16 H80.10 M76.10 1123.21 H80.10 M76.10 1116.25 H80.10 M76.10 1109.30 H80.10 M76.10 1102.34 H80.10 M76.10 1095.38 H80.10 M76.10 1088.43 H80.10 M76.10 1081.47 H80.10 M76.10 1074.52 H80.10 M76.10 1067.56 H82.10 M76.10 1060.60 H80.10 M76.10 1053.65 H80.10 M76.10 1046.69 H80.10 M76.10 1039.74 H80.10 M76.10 1032.78 H80.10 M76.10 1025.82 H80.10 M76.10 1018.87 H80.10 M76.10 1011.91 H80.10 M76.10 1004.96 H80.10" stroke="#000" stroke-width="1.5" fill="none"/>
<rect x="76.10" y="998.00" width="433.50" height="347.80" fill="none" stroke="#000" stroke-width="1.9"/>
<text x="69.8" y="1005.40" class="tl" text-anchor="end">0.9</text>
<text x="69.8" y="1074.96" class="tl" text-anchor="end">0.7</text>
<text x="69.8" y="1144.52" class="tl" text-anchor="end">0.5</text>
<text x="69.8" y="1214.08" class="tl" text-anchor="end">0.3</text>
<text x="69.8" y="1283.64" class="tl" text-anchor="end">0.1</text>
<text x="69.8" y="1318.42" class="tl" text-anchor="end">0</text>
<text x="69.8" y="1353.20" class="tl" text-anchor="end">-0.1</text>
<text x="76.10" y="1370.90" class="tl" text-anchor="middle">0</text>
<text x="162.80" y="1370.90" class="tl" text-anchor="middle">10</text>
<text x="249.50" y="1370.90" class="tl" text-anchor="middle">20</text>
<text x="336.20" y="1370.90" class="tl" text-anchor="middle">30</text>
<text x="422.90" y="1370.90" class="tl" text-anchor="middle">40</text>
<text x="509.60" y="1370.90" class="tl" text-anchor="middle">50</text>
<text x="280.00" y="1403.90" class="ax">&#915;t</text>
<g transform="translate(24.2 1198.80) rotate(-90)">
<text x="0" y="0" class="chi" transform="translate(18.60 1.5) scale(-1.13 1)">&#967;</text>
<text x="4.10" y="1.00" class="dot">&#729;</text>
<text x="19.00" y="3.50" class="sl">/</text>
<text x="34.00" y="0" class="ax">&#915;</text>
</g>
<text x="1.6" y="974.20" class="pl">(<tspan font-style="italic">c</tspan>)</text>
<line x1="411.20" y1="1007.20" x2="443.50" y2="1007.20" stroke="#000" stroke-width="2.1"/>
<text x="447.70" y="1011.50" class="lg">Re=1</text>
<line x1="411.20" y1="1022.87" x2="443.50" y2="1022.87" stroke="#d5101f" stroke-width="2.2" stroke-dasharray="8.2 8.6"/>
<text x="447.70" y="1027.17" class="lg">Re=15</text>
<line x1="411.20" y1="1038.54" x2="443.50" y2="1038.54" stroke="#0800cc" stroke-width="2.1" stroke-dasharray="8 2.4 4.2 2.4"/>
<text x="447.70" y="1042.84" class="lg">Re=30</text>
<line x1="411.20" y1="1054.21" x2="443.50" y2="1054.21" stroke="#dc00e0" stroke-width="2.1" stroke-dasharray="1.9 2.3"/>
<text x="447.70" y="1058.51" class="lg">Re=45</text>
</svg>
</body></html>
